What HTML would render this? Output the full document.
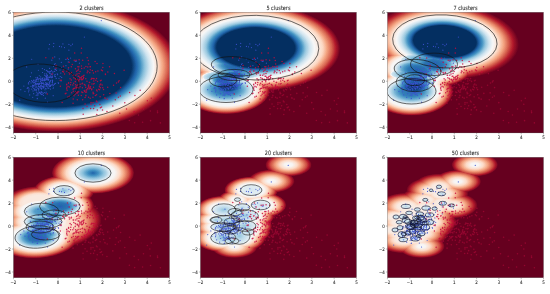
<!DOCTYPE html>
<html><head><meta charset="utf-8"><style>
html,body{margin:0;padding:0;background:#fff;}
svg{display:block;}
text{stroke:#333;stroke-width:0.08px;}
.t{font-family:"DejaVu Sans","Liberation Sans",sans-serif;font-size:4.0px;fill:#333;text-anchor:middle;}
.ty{font-family:"DejaVu Sans","Liberation Sans",sans-serif;font-size:4.0px;fill:#333;text-anchor:end;}
.ti{font-family:"DejaVu Sans","Liberation Sans",sans-serif;font-size:4.95px;fill:#333;text-anchor:middle;}
</style></head><body>
<svg width="550" height="294" viewBox="0 0 550 294">
<defs><filter id="rdbu" color-interpolation-filters="sRGB" filterUnits="userSpaceOnUse" x="0" y="0" width="550" height="294"><feComponentTransfer><feFuncR type="table" tableValues="0.4039 0.6980 0.8392 0.9569 0.9922 0.9686 0.8196 0.5725 0.2627 0.1294 0.0196"/><feFuncG type="table" tableValues="0.0000 0.0941 0.3765 0.6471 0.8588 0.9686 0.8980 0.7725 0.5765 0.4000 0.1882"/><feFuncB type="table" tableValues="0.1216 0.1686 0.3020 0.5098 0.7804 0.9686 0.9412 0.8706 0.7647 0.6745 0.3804"/></feComponentTransfer></filter><clipPath id="cp0"><rect x="13.45" y="12.35" width="156.05" height="120.55"/></clipPath><radialGradient id="g0"><stop offset="0.000" stop-color="#ffffff"/><stop offset="0.619" stop-color="#ffffff"/><stop offset="0.667" stop-color="#e1e1e1"/><stop offset="0.714" stop-color="#bcbcbc"/><stop offset="0.762" stop-color="#9a9a9a"/><stop offset="0.810" stop-color="#787878"/><stop offset="0.857" stop-color="#585858"/><stop offset="0.905" stop-color="#3a3a3a"/><stop offset="0.952" stop-color="#1c1c1c"/><stop offset="1.000" stop-color="#000000"/></radialGradient><clipPath id="cp1"><rect x="200.4" y="12.35" width="156.05" height="120.55"/></clipPath><radialGradient id="g1"><stop offset="0.000" stop-color="#ffffff"/><stop offset="0.463" stop-color="#ffffff"/><stop offset="0.522" stop-color="#dbdbdb"/><stop offset="0.597" stop-color="#adadad"/><stop offset="0.693" stop-color="#808080"/><stop offset="0.746" stop-color="#737373"/><stop offset="0.798" stop-color="#636363"/><stop offset="0.843" stop-color="#4c4c4c"/><stop offset="0.902" stop-color="#333333"/><stop offset="0.949" stop-color="#191919"/><stop offset="1.000" stop-color="#000000"/></radialGradient><radialGradient id="g2"><stop offset="0.000" stop-color="#828282"/><stop offset="0.590" stop-color="#828282"/><stop offset="0.662" stop-color="#7d7d7d"/><stop offset="0.744" stop-color="#666666"/><stop offset="0.822" stop-color="#4c4c4c"/><stop offset="0.911" stop-color="#2d2d2d"/><stop offset="1.000" stop-color="#040404"/></radialGradient><radialGradient id="g3"><stop offset="0.000" stop-color="#e6e6e6"/><stop offset="0.333" stop-color="#dddddd"/><stop offset="0.583" stop-color="#bdbdbd"/><stop offset="0.833" stop-color="#8a8a8a"/><stop offset="1.000" stop-color="#000000"/></radialGradient><radialGradient id="g4"><stop offset="0.000" stop-color="#828282"/><stop offset="0.614" stop-color="#828282"/><stop offset="0.681" stop-color="#7d7d7d"/><stop offset="0.758" stop-color="#666666"/><stop offset="0.832" stop-color="#4c4c4c"/><stop offset="0.916" stop-color="#2d2d2d"/><stop offset="1.000" stop-color="#040404"/></radialGradient><radialGradient id="g5"><stop offset="0.000" stop-color="#dfdfdf"/><stop offset="0.333" stop-color="#d7d7d7"/><stop offset="0.583" stop-color="#b9b9b9"/><stop offset="0.833" stop-color="#8a8a8a"/><stop offset="1.000" stop-color="#000000"/></radialGradient><radialGradient id="g6"><stop offset="0.000" stop-color="#828282"/><stop offset="0.448" stop-color="#828282"/><stop offset="0.544" stop-color="#7d7d7d"/><stop offset="0.654" stop-color="#666666"/><stop offset="0.760" stop-color="#4c4c4c"/><stop offset="0.880" stop-color="#2d2d2d"/><stop offset="1.000" stop-color="#040404"/></radialGradient><radialGradient id="g7"><stop offset="0.000" stop-color="#ececec"/><stop offset="0.333" stop-color="#e3e3e3"/><stop offset="0.583" stop-color="#c1c1c1"/><stop offset="0.833" stop-color="#8a8a8a"/><stop offset="1.000" stop-color="#000000"/></radialGradient><radialGradient id="g8"><stop offset="0.000" stop-color="#828282"/><stop offset="0.485" stop-color="#828282"/><stop offset="0.574" stop-color="#7d7d7d"/><stop offset="0.677" stop-color="#666666"/><stop offset="0.776" stop-color="#4c4c4c"/><stop offset="0.888" stop-color="#2d2d2d"/><stop offset="1.000" stop-color="#040404"/></radialGradient><radialGradient id="g9"><stop offset="0.000" stop-color="#ffffff"/><stop offset="0.333" stop-color="#f2f2f2"/><stop offset="0.667" stop-color="#b9b9b9"/><stop offset="1.000" stop-color="#000000"/></radialGradient><radialGradient id="g10"><stop offset="0.000" stop-color="#d2d2d2"/><stop offset="0.462" stop-color="#bfbfbf"/><stop offset="0.769" stop-color="#999999"/><stop offset="1.000" stop-color="#000000"/></radialGradient><clipPath id="cp2"><rect x="387.45" y="12.35" width="156.05" height="120.55"/></clipPath><radialGradient id="g11"><stop offset="0.000" stop-color="#ffffff"/><stop offset="0.423" stop-color="#ffffff"/><stop offset="0.479" stop-color="#dbdbdb"/><stop offset="0.556" stop-color="#adadad"/><stop offset="0.648" stop-color="#808080"/><stop offset="0.704" stop-color="#707070"/><stop offset="0.761" stop-color="#595959"/><stop offset="0.824" stop-color="#404040"/><stop offset="0.887" stop-color="#262626"/><stop offset="0.937" stop-color="#131313"/><stop offset="1.000" stop-color="#000000"/></radialGradient><radialGradient id="g12"><stop offset="0.000" stop-color="#828282"/><stop offset="0.580" stop-color="#828282"/><stop offset="0.653" stop-color="#7d7d7d"/><stop offset="0.737" stop-color="#666666"/><stop offset="0.817" stop-color="#4c4c4c"/><stop offset="0.909" stop-color="#2d2d2d"/><stop offset="1.000" stop-color="#040404"/></radialGradient><radialGradient id="g13"><stop offset="0.000" stop-color="#828282"/><stop offset="0.528" stop-color="#828282"/><stop offset="0.610" stop-color="#7d7d7d"/><stop offset="0.704" stop-color="#666666"/><stop offset="0.795" stop-color="#4c4c4c"/><stop offset="0.897" stop-color="#2d2d2d"/><stop offset="1.000" stop-color="#040404"/></radialGradient><radialGradient id="g14"><stop offset="0.000" stop-color="#828282"/><stop offset="0.370" stop-color="#828282"/><stop offset="0.480" stop-color="#7d7d7d"/><stop offset="0.606" stop-color="#666666"/><stop offset="0.726" stop-color="#4c4c4c"/><stop offset="0.863" stop-color="#2d2d2d"/><stop offset="1.000" stop-color="#040404"/></radialGradient><clipPath id="cp3"><rect x="13.45" y="157.2" width="156.05" height="120.55"/></clipPath><radialGradient id="g15"><stop offset="0.000" stop-color="#828282"/><stop offset="0.440" stop-color="#828282"/><stop offset="0.538" stop-color="#7d7d7d"/><stop offset="0.650" stop-color="#666666"/><stop offset="0.757" stop-color="#4c4c4c"/><stop offset="0.878" stop-color="#2d2d2d"/><stop offset="1.000" stop-color="#040404"/></radialGradient><radialGradient id="g16"><stop offset="0.000" stop-color="#e6e6e6"/><stop offset="0.292" stop-color="#c7c7c7"/><stop offset="0.583" stop-color="#aaaaaa"/><stop offset="0.833" stop-color="#8a8a8a"/><stop offset="1.000" stop-color="#000000"/></radialGradient><radialGradient id="g17"><stop offset="0.000" stop-color="#828282"/><stop offset="0.338" stop-color="#828282"/><stop offset="0.453" stop-color="#7d7d7d"/><stop offset="0.585" stop-color="#666666"/><stop offset="0.712" stop-color="#4c4c4c"/><stop offset="0.856" stop-color="#2d2d2d"/><stop offset="1.000" stop-color="#040404"/></radialGradient><radialGradient id="g18"><stop offset="0.000" stop-color="#b9b9b9"/><stop offset="0.292" stop-color="#a8a8a8"/><stop offset="0.583" stop-color="#9a9a9a"/><stop offset="0.833" stop-color="#8a8a8a"/><stop offset="1.000" stop-color="#000000"/></radialGradient><radialGradient id="g19"><stop offset="0.000" stop-color="#757575"/><stop offset="0.593" stop-color="#757575"/><stop offset="0.664" stop-color="#707070"/><stop offset="0.745" stop-color="#595959"/><stop offset="0.823" stop-color="#404040"/><stop offset="0.912" stop-color="#202020"/><stop offset="1.000" stop-color="#000000"/></radialGradient><radialGradient id="g20"><stop offset="0.000" stop-color="#828282"/><stop offset="0.464" stop-color="#828282"/><stop offset="0.557" stop-color="#7d7d7d"/><stop offset="0.664" stop-color="#666666"/><stop offset="0.767" stop-color="#4c4c4c"/><stop offset="0.883" stop-color="#2d2d2d"/><stop offset="1.000" stop-color="#040404"/></radialGradient><radialGradient id="g21"><stop offset="0.000" stop-color="#cccccc"/><stop offset="0.333" stop-color="#c6c6c6"/><stop offset="0.583" stop-color="#adadad"/><stop offset="0.833" stop-color="#8a8a8a"/><stop offset="1.000" stop-color="#000000"/></radialGradient><radialGradient id="g22"><stop offset="0.000" stop-color="#7c7c7c"/><stop offset="0.375" stop-color="#7c7c7c"/><stop offset="0.484" stop-color="#777777"/><stop offset="0.609" stop-color="#606060"/><stop offset="0.728" stop-color="#464646"/><stop offset="0.864" stop-color="#262626"/><stop offset="1.000" stop-color="#000000"/></radialGradient><radialGradient id="g23"><stop offset="0.000" stop-color="#7c7c7c"/><stop offset="0.486" stop-color="#7c7c7c"/><stop offset="0.575" stop-color="#777777"/><stop offset="0.678" stop-color="#606060"/><stop offset="0.776" stop-color="#464646"/><stop offset="0.888" stop-color="#262626"/><stop offset="1.000" stop-color="#000000"/></radialGradient><radialGradient id="g24"><stop offset="0.000" stop-color="#d2d2d2"/><stop offset="0.333" stop-color="#cccccc"/><stop offset="0.583" stop-color="#b1b1b1"/><stop offset="0.833" stop-color="#8a8a8a"/><stop offset="1.000" stop-color="#000000"/></radialGradient><radialGradient id="g25"><stop offset="0.000" stop-color="#828282"/><stop offset="0.524" stop-color="#828282"/><stop offset="0.607" stop-color="#7d7d7d"/><stop offset="0.702" stop-color="#666666"/><stop offset="0.793" stop-color="#4c4c4c"/><stop offset="0.896" stop-color="#2d2d2d"/><stop offset="1.000" stop-color="#040404"/></radialGradient><radialGradient id="g26"><stop offset="0.000" stop-color="#7c7c7c"/><stop offset="0.417" stop-color="#7c7c7c"/><stop offset="0.518" stop-color="#777777"/><stop offset="0.635" stop-color="#606060"/><stop offset="0.746" stop-color="#464646"/><stop offset="0.873" stop-color="#262626"/><stop offset="1.000" stop-color="#000000"/></radialGradient><radialGradient id="g27"><stop offset="0.000" stop-color="#828282"/><stop offset="0.412" stop-color="#828282"/><stop offset="0.514" stop-color="#7d7d7d"/><stop offset="0.632" stop-color="#666666"/><stop offset="0.744" stop-color="#4c4c4c"/><stop offset="0.872" stop-color="#2d2d2d"/><stop offset="1.000" stop-color="#040404"/></radialGradient><radialGradient id="g28"><stop offset="0.000" stop-color="#757575"/><stop offset="0.353" stop-color="#757575"/><stop offset="0.465" stop-color="#707070"/><stop offset="0.595" stop-color="#595959"/><stop offset="0.719" stop-color="#404040"/><stop offset="0.859" stop-color="#202020"/><stop offset="1.000" stop-color="#000000"/></radialGradient><radialGradient id="g29"><stop offset="0.000" stop-color="#737373"/><stop offset="0.444" stop-color="#737373"/><stop offset="0.541" stop-color="#6e6e6e"/><stop offset="0.652" stop-color="#575757"/><stop offset="0.758" stop-color="#3d3d3d"/><stop offset="0.879" stop-color="#1d1d1d"/><stop offset="1.000" stop-color="#000000"/></radialGradient><radialGradient id="g30"><stop offset="0.000" stop-color="#737373"/><stop offset="0.400" stop-color="#636363"/><stop offset="0.600" stop-color="#4a4a4a"/><stop offset="0.800" stop-color="#292929"/><stop offset="1.000" stop-color="#000000"/></radialGradient><clipPath id="cp4"><rect x="200.4" y="157.2" width="156.05" height="120.55"/></clipPath><radialGradient id="g31"><stop offset="0.000" stop-color="#828282"/><stop offset="0.174" stop-color="#7d7d7d"/><stop offset="0.374" stop-color="#666666"/><stop offset="0.565" stop-color="#4c4c4c"/><stop offset="0.783" stop-color="#2d2d2d"/><stop offset="1.000" stop-color="#040404"/></radialGradient><radialGradient id="g32"><stop offset="0.000" stop-color="#828282"/><stop offset="0.401" stop-color="#828282"/><stop offset="0.505" stop-color="#7d7d7d"/><stop offset="0.625" stop-color="#666666"/><stop offset="0.739" stop-color="#4c4c4c"/><stop offset="0.870" stop-color="#2d2d2d"/><stop offset="1.000" stop-color="#040404"/></radialGradient><radialGradient id="g33"><stop offset="0.000" stop-color="#999999"/><stop offset="0.292" stop-color="#919191"/><stop offset="0.583" stop-color="#8f8f8f"/><stop offset="0.833" stop-color="#8a8a8a"/><stop offset="1.000" stop-color="#000000"/></radialGradient><radialGradient id="g34"><stop offset="0.000" stop-color="#828282"/><stop offset="0.158" stop-color="#828282"/><stop offset="0.304" stop-color="#7d7d7d"/><stop offset="0.473" stop-color="#666666"/><stop offset="0.634" stop-color="#4c4c4c"/><stop offset="0.817" stop-color="#2d2d2d"/><stop offset="1.000" stop-color="#040404"/></radialGradient><radialGradient id="g35"><stop offset="0.000" stop-color="#828282"/><stop offset="0.373" stop-color="#828282"/><stop offset="0.482" stop-color="#7d7d7d"/><stop offset="0.607" stop-color="#666666"/><stop offset="0.727" stop-color="#4c4c4c"/><stop offset="0.864" stop-color="#2d2d2d"/><stop offset="1.000" stop-color="#040404"/></radialGradient><radialGradient id="g36"><stop offset="0.000" stop-color="#9f9f9f"/><stop offset="0.292" stop-color="#969696"/><stop offset="0.583" stop-color="#919191"/><stop offset="0.833" stop-color="#8a8a8a"/><stop offset="1.000" stop-color="#000000"/></radialGradient><radialGradient id="g37"><stop offset="0.000" stop-color="#828282"/><stop offset="0.427" stop-color="#828282"/><stop offset="0.526" stop-color="#7d7d7d"/><stop offset="0.641" stop-color="#666666"/><stop offset="0.751" stop-color="#4c4c4c"/><stop offset="0.875" stop-color="#2d2d2d"/><stop offset="1.000" stop-color="#040404"/></radialGradient><radialGradient id="g38"><stop offset="0.000" stop-color="#b2b2b2"/><stop offset="0.292" stop-color="#a3a3a3"/><stop offset="0.583" stop-color="#989898"/><stop offset="0.833" stop-color="#8a8a8a"/><stop offset="1.000" stop-color="#000000"/></radialGradient><radialGradient id="g39"><stop offset="0.000" stop-color="#828282"/><stop offset="0.325" stop-color="#828282"/><stop offset="0.442" stop-color="#7d7d7d"/><stop offset="0.577" stop-color="#666666"/><stop offset="0.706" stop-color="#4c4c4c"/><stop offset="0.853" stop-color="#2d2d2d"/><stop offset="1.000" stop-color="#040404"/></radialGradient><radialGradient id="g40"><stop offset="0.000" stop-color="#a6a6a6"/><stop offset="0.292" stop-color="#9a9a9a"/><stop offset="0.583" stop-color="#939393"/><stop offset="0.833" stop-color="#8a8a8a"/><stop offset="1.000" stop-color="#000000"/></radialGradient><radialGradient id="g41"><stop offset="0.000" stop-color="#828282"/><stop offset="0.482" stop-color="#828282"/><stop offset="0.572" stop-color="#7d7d7d"/><stop offset="0.676" stop-color="#666666"/><stop offset="0.775" stop-color="#4c4c4c"/><stop offset="0.887" stop-color="#2d2d2d"/><stop offset="1.000" stop-color="#040404"/></radialGradient><radialGradient id="g42"><stop offset="0.000" stop-color="#828282"/><stop offset="0.461" stop-color="#828282"/><stop offset="0.555" stop-color="#7d7d7d"/><stop offset="0.663" stop-color="#666666"/><stop offset="0.766" stop-color="#4c4c4c"/><stop offset="0.883" stop-color="#2d2d2d"/><stop offset="1.000" stop-color="#040404"/></radialGradient><radialGradient id="g43"><stop offset="0.000" stop-color="#828282"/><stop offset="0.439" stop-color="#828282"/><stop offset="0.536" stop-color="#7d7d7d"/><stop offset="0.649" stop-color="#666666"/><stop offset="0.756" stop-color="#4c4c4c"/><stop offset="0.878" stop-color="#2d2d2d"/><stop offset="1.000" stop-color="#040404"/></radialGradient><radialGradient id="g44"><stop offset="0.000" stop-color="#828282"/><stop offset="0.414" stop-color="#828282"/><stop offset="0.516" stop-color="#7d7d7d"/><stop offset="0.633" stop-color="#666666"/><stop offset="0.745" stop-color="#4c4c4c"/><stop offset="0.873" stop-color="#2d2d2d"/><stop offset="1.000" stop-color="#040404"/></radialGradient><radialGradient id="g45"><stop offset="0.000" stop-color="#828282"/><stop offset="0.333" stop-color="#828282"/><stop offset="0.449" stop-color="#7d7d7d"/><stop offset="0.583" stop-color="#666666"/><stop offset="0.710" stop-color="#4c4c4c"/><stop offset="0.855" stop-color="#2d2d2d"/><stop offset="1.000" stop-color="#040404"/></radialGradient><radialGradient id="g46"><stop offset="0.000" stop-color="#828282"/><stop offset="0.360" stop-color="#828282"/><stop offset="0.471" stop-color="#7d7d7d"/><stop offset="0.599" stop-color="#666666"/><stop offset="0.722" stop-color="#4c4c4c"/><stop offset="0.861" stop-color="#2d2d2d"/><stop offset="1.000" stop-color="#040404"/></radialGradient><radialGradient id="g47"><stop offset="0.000" stop-color="#828282"/><stop offset="0.304" stop-color="#828282"/><stop offset="0.425" stop-color="#7d7d7d"/><stop offset="0.564" stop-color="#666666"/><stop offset="0.698" stop-color="#4c4c4c"/><stop offset="0.849" stop-color="#2d2d2d"/><stop offset="1.000" stop-color="#040404"/></radialGradient><radialGradient id="g48"><stop offset="0.000" stop-color="#828282"/><stop offset="0.273" stop-color="#828282"/><stop offset="0.399" stop-color="#7d7d7d"/><stop offset="0.545" stop-color="#666666"/><stop offset="0.684" stop-color="#4c4c4c"/><stop offset="0.842" stop-color="#2d2d2d"/><stop offset="1.000" stop-color="#040404"/></radialGradient><radialGradient id="g49"><stop offset="0.000" stop-color="#acacac"/><stop offset="0.292" stop-color="#9f9f9f"/><stop offset="0.583" stop-color="#959595"/><stop offset="0.833" stop-color="#8a8a8a"/><stop offset="1.000" stop-color="#000000"/></radialGradient><clipPath id="cp5"><rect x="387.45" y="157.2" width="156.05" height="120.55"/></clipPath><radialGradient id="g50"><stop offset="0.000" stop-color="#787878"/><stop offset="0.102" stop-color="#787878"/><stop offset="0.258" stop-color="#737373"/><stop offset="0.437" stop-color="#5c5c5c"/><stop offset="0.609" stop-color="#424242"/><stop offset="0.805" stop-color="#222222"/><stop offset="1.000" stop-color="#000000"/></radialGradient><radialGradient id="g51"><stop offset="0.000" stop-color="#787878"/><stop offset="0.170" stop-color="#787878"/><stop offset="0.314" stop-color="#737373"/><stop offset="0.480" stop-color="#5c5c5c"/><stop offset="0.639" stop-color="#424242"/><stop offset="0.819" stop-color="#222222"/><stop offset="1.000" stop-color="#000000"/></radialGradient><radialGradient id="g52"><stop offset="0.000" stop-color="#787878"/><stop offset="0.158" stop-color="#787878"/><stop offset="0.304" stop-color="#737373"/><stop offset="0.473" stop-color="#5c5c5c"/><stop offset="0.634" stop-color="#424242"/><stop offset="0.817" stop-color="#222222"/><stop offset="1.000" stop-color="#000000"/></radialGradient><radialGradient id="g53"><stop offset="0.000" stop-color="#787878"/><stop offset="0.115" stop-color="#787878"/><stop offset="0.269" stop-color="#737373"/><stop offset="0.446" stop-color="#5c5c5c"/><stop offset="0.615" stop-color="#424242"/><stop offset="0.808" stop-color="#222222"/><stop offset="1.000" stop-color="#000000"/></radialGradient><radialGradient id="g54"><stop offset="0.000" stop-color="#787878"/><stop offset="0.098" stop-color="#787878"/><stop offset="0.255" stop-color="#737373"/><stop offset="0.435" stop-color="#5c5c5c"/><stop offset="0.608" stop-color="#424242"/><stop offset="0.804" stop-color="#222222"/><stop offset="1.000" stop-color="#000000"/></radialGradient><radialGradient id="g55"><stop offset="0.000" stop-color="#787878"/><stop offset="0.129" stop-color="#787878"/><stop offset="0.280" stop-color="#737373"/><stop offset="0.455" stop-color="#5c5c5c"/><stop offset="0.621" stop-color="#424242"/><stop offset="0.811" stop-color="#222222"/><stop offset="1.000" stop-color="#000000"/></radialGradient><radialGradient id="g56"><stop offset="0.000" stop-color="#787878"/><stop offset="0.142" stop-color="#787878"/><stop offset="0.291" stop-color="#737373"/><stop offset="0.463" stop-color="#5c5c5c"/><stop offset="0.627" stop-color="#424242"/><stop offset="0.813" stop-color="#222222"/><stop offset="1.000" stop-color="#000000"/></radialGradient><radialGradient id="g57"><stop offset="0.000" stop-color="#787878"/><stop offset="0.073" stop-color="#787878"/><stop offset="0.234" stop-color="#737373"/><stop offset="0.419" stop-color="#5c5c5c"/><stop offset="0.597" stop-color="#424242"/><stop offset="0.798" stop-color="#222222"/><stop offset="1.000" stop-color="#000000"/></radialGradient><radialGradient id="g58"><stop offset="0.000" stop-color="#787878"/><stop offset="0.151" stop-color="#787878"/><stop offset="0.299" stop-color="#737373"/><stop offset="0.469" stop-color="#5c5c5c"/><stop offset="0.631" stop-color="#424242"/><stop offset="0.815" stop-color="#222222"/><stop offset="1.000" stop-color="#000000"/></radialGradient><radialGradient id="g59"><stop offset="0.000" stop-color="#787878"/><stop offset="0.132" stop-color="#787878"/><stop offset="0.283" stop-color="#737373"/><stop offset="0.457" stop-color="#5c5c5c"/><stop offset="0.623" stop-color="#424242"/><stop offset="0.811" stop-color="#222222"/><stop offset="1.000" stop-color="#000000"/></radialGradient><radialGradient id="g60"><stop offset="0.000" stop-color="#787878"/><stop offset="0.118" stop-color="#787878"/><stop offset="0.271" stop-color="#737373"/><stop offset="0.448" stop-color="#5c5c5c"/><stop offset="0.616" stop-color="#424242"/><stop offset="0.808" stop-color="#222222"/><stop offset="1.000" stop-color="#000000"/></radialGradient><radialGradient id="g61"><stop offset="0.000" stop-color="#787878"/><stop offset="0.145" stop-color="#787878"/><stop offset="0.294" stop-color="#737373"/><stop offset="0.465" stop-color="#5c5c5c"/><stop offset="0.628" stop-color="#424242"/><stop offset="0.814" stop-color="#222222"/><stop offset="1.000" stop-color="#000000"/></radialGradient><radialGradient id="g62"><stop offset="0.000" stop-color="#787878"/><stop offset="0.143" stop-color="#787878"/><stop offset="0.292" stop-color="#737373"/><stop offset="0.463" stop-color="#5c5c5c"/><stop offset="0.627" stop-color="#424242"/><stop offset="0.814" stop-color="#222222"/><stop offset="1.000" stop-color="#000000"/></radialGradient><radialGradient id="g63"><stop offset="0.000" stop-color="#787878"/><stop offset="0.096" stop-color="#787878"/><stop offset="0.253" stop-color="#737373"/><stop offset="0.434" stop-color="#5c5c5c"/><stop offset="0.607" stop-color="#424242"/><stop offset="0.803" stop-color="#222222"/><stop offset="1.000" stop-color="#000000"/></radialGradient><radialGradient id="g64"><stop offset="0.000" stop-color="#787878"/><stop offset="0.136" stop-color="#787878"/><stop offset="0.286" stop-color="#737373"/><stop offset="0.459" stop-color="#5c5c5c"/><stop offset="0.624" stop-color="#424242"/><stop offset="0.812" stop-color="#222222"/><stop offset="1.000" stop-color="#000000"/></radialGradient><radialGradient id="g65"><stop offset="0.000" stop-color="#787878"/><stop offset="0.101" stop-color="#787878"/><stop offset="0.257" stop-color="#737373"/><stop offset="0.437" stop-color="#5c5c5c"/><stop offset="0.609" stop-color="#424242"/><stop offset="0.805" stop-color="#222222"/><stop offset="1.000" stop-color="#000000"/></radialGradient><radialGradient id="g66"><stop offset="0.000" stop-color="#787878"/><stop offset="0.134" stop-color="#787878"/><stop offset="0.284" stop-color="#737373"/><stop offset="0.458" stop-color="#5c5c5c"/><stop offset="0.623" stop-color="#424242"/><stop offset="0.812" stop-color="#222222"/><stop offset="1.000" stop-color="#000000"/></radialGradient><radialGradient id="g67"><stop offset="0.000" stop-color="#787878"/><stop offset="0.147" stop-color="#787878"/><stop offset="0.296" stop-color="#737373"/><stop offset="0.466" stop-color="#5c5c5c"/><stop offset="0.629" stop-color="#424242"/><stop offset="0.815" stop-color="#222222"/><stop offset="1.000" stop-color="#000000"/></radialGradient><radialGradient id="g68"><stop offset="0.000" stop-color="#787878"/><stop offset="0.098" stop-color="#787878"/><stop offset="0.255" stop-color="#737373"/><stop offset="0.436" stop-color="#5c5c5c"/><stop offset="0.608" stop-color="#424242"/><stop offset="0.804" stop-color="#222222"/><stop offset="1.000" stop-color="#000000"/></radialGradient><radialGradient id="g69"><stop offset="0.000" stop-color="#787878"/><stop offset="0.138" stop-color="#787878"/><stop offset="0.288" stop-color="#737373"/><stop offset="0.460" stop-color="#5c5c5c"/><stop offset="0.625" stop-color="#424242"/><stop offset="0.813" stop-color="#222222"/><stop offset="1.000" stop-color="#000000"/></radialGradient><radialGradient id="g70"><stop offset="0.000" stop-color="#787878"/><stop offset="0.104" stop-color="#787878"/><stop offset="0.260" stop-color="#737373"/><stop offset="0.439" stop-color="#5c5c5c"/><stop offset="0.610" stop-color="#424242"/><stop offset="0.805" stop-color="#222222"/><stop offset="1.000" stop-color="#000000"/></radialGradient><radialGradient id="g71"><stop offset="0.000" stop-color="#787878"/><stop offset="0.135" stop-color="#787878"/><stop offset="0.285" stop-color="#737373"/><stop offset="0.458" stop-color="#5c5c5c"/><stop offset="0.624" stop-color="#424242"/><stop offset="0.812" stop-color="#222222"/><stop offset="1.000" stop-color="#000000"/></radialGradient></defs>
<rect width="550" height="294" fill="#fff"/>
<g clip-path="url(#cp0)">
<g filter="url(#rdbu)" style="isolation:isolate">
<rect x="11.45" y="10.35" width="160.05" height="124.55" fill="#000"/>
<ellipse style="mix-blend-mode:lighten" transform="translate(55.6 66.3) rotate(0)" rx="122.56" ry="65.5" fill="url(#g0)"/>
<ellipse style="mix-blend-mode:lighten" transform="translate(42.4 83.2) rotate(4)" rx="43.73" ry="23.04" fill="url(#g0)"/>
</g>
<path d="M49.54 71.92h0M46.26 83.25h0M39.85 87.85h0M33.75 80.83h0M52.27 77.38h0M39.67 86.62h0M44.8 79.51h0M34.26 82.69h0M47.24 79.67h0M36.42 79.4h0M52.88 72.92h0M53.42 87.83h0M35.26 81.47h0M28.68 82.68h0M46.62 75.95h0M46.19 88.87h0M38.59 93.84h0M29.7 94.94h0M46.11 92.2h0M50.69 71.61h0M46.93 77.53h0M42.3 78.52h0M24.96 91.35h0M58.51 83.32h0M42.12 80.65h0M54.65 71.4h0M45.72 82.64h0M41.34 83.4h0M39.48 92.46h0M50.11 85h0M31.05 82.92h0M52.98 85.65h0M36.78 84.25h0M31.82 89.07h0M35.53 83.38h0M49.62 73.33h0M52.52 84.04h0M50.05 73.38h0M49.62 81.8h0M32.66 81.99h0M52.14 79.99h0M40.57 79.26h0M39.42 83.45h0M49.68 86.39h0M55.22 74.3h0M50.37 80.38h0M43.28 82.94h0M40.09 87.06h0M60 70.01h0M39.37 84.5h0M41.6 88.77h0M37.48 78.77h0M42.94 79.25h0M51.78 74.31h0M49.72 71.76h0M44.04 85.11h0M52.26 77.1h0M38.66 90.82h0M41.43 82.3h0M50.52 89.1h0M36.99 84.35h0M47.69 79.17h0M47.85 84.38h0M48.27 80.37h0M50.19 77.33h0M38.62 86.34h0M42.37 86.44h0M27.93 87.4h0M36.58 80.78h0M36.17 95.51h0M43.06 87.97h0M34.72 84.88h0M34.63 90.04h0M37.7 83.65h0M33.6 82.83h0M33.6 80.68h0M46.78 85.01h0M59 78.28h0M40.34 93.52h0M55.38 76.68h0M41.49 89.22h0M44.49 69.61h0M52.49 81.36h0M43.62 87.98h0M33.79 88.6h0M40.79 88.25h0M48.76 84.68h0M38.33 88.62h0M51.76 77.69h0M40.96 91.98h0M43.58 86.39h0M52.23 82.58h0M33.77 79.98h0M41.11 92.34h0M48.98 85.94h0M40.85 80.35h0M44.55 75.27h0M45.32 98.19h0M37.88 95.57h0M49.29 77.32h0M41.17 94.62h0M28.91 90.25h0M46.47 86.16h0M49.89 82.09h0M40.57 85.5h0M36.29 89.62h0M45.01 78.92h0M42.87 79.31h0M41.04 86.68h0M46.18 84.89h0M54.59 83.97h0M41.38 84.04h0M38.71 89.43h0M42.95 77.83h0M47.62 84.14h0M40.17 83.11h0M49.17 77.05h0M52.43 81.93h0M47.5 75.44h0M42.77 86.56h0M32.26 81.47h0M50.24 75.08h0M40.74 76.97h0M46.83 74.26h0M35.23 81.92h0M41.62 83.71h0M45.35 84.64h0M49.64 83.77h0M35.75 84.64h0M47.26 83.84h0M54.62 76.24h0M37.12 94.36h0M51.41 73.99h0M42.96 86.53h0M44.91 86.85h0M51.66 84.74h0M42.13 78.98h0M52.13 80.35h0M38.5 85.96h0M37.43 98.34h0M28.72 84.01h0M33.68 93.65h0M47.05 78.14h0M39.83 78.69h0M42.14 92.35h0M46.05 79.87h0M44.73 73.86h0M47.53 86.81h0M52.98 71.58h0M48.7 71.82h0M44.42 80.7h0M37.32 93.11h0M47.57 77h0M51.37 85.09h0M28.99 88.88h0M33.68 85.55h0M52.25 74.99h0M35.95 87.56h0M54.55 64.49h0M41.71 88.05h0M48.22 79.27h0M32.62 87.18h0M46.43 79.2h0M42.27 94.55h0M46.26 77.86h0M43.79 84.85h0M32.65 85.57h0M37.16 79.21h0M37.49 78.78h0M42.5 83.41h0M46.58 70.62h0M33.03 90.94h0M34.8 89.2h0M50.27 81.29h0M47.84 71.78h0M68.24 69.02h0M29.67 81.43h0M43.77 83.56h0M32.73 97.29h0M38.28 83.24h0M52.63 80.3h0M42.65 86.25h0M36.01 86.06h0M47.15 83.1h0M28.32 83.75h0M37.57 77.38h0M54.53 84.37h0M36.89 81.61h0M43.17 93.44h0M46.77 83.72h0M48.11 77.16h0M36.82 83.72h0M19.73 100.21h0M42.42 83.18h0M45.06 80.3h0M49.06 82.93h0M37.72 88.09h0M41.31 94.1h0M46.76 83.32h0M57.62 74.72h0M47.97 84.29h0M39.11 92.36h0M35.22 80.13h0M46.42 73.81h0M44.78 78.21h0M56.21 78.4h0M30.89 86.24h0M47.96 84.81h0M38.41 84.51h0M30.44 76.57h0M32.55 85.39h0M41.03 80.23h0M36.19 89.44h0M36.37 92.04h0M38.21 86.73h0M45.4 88.51h0M46.22 84.27h0M41.56 79h0M48.6 79.85h0M43.06 80.53h0M50.34 86.42h0M51.81 60.13h0M45.75 75.79h0M54.74 74.9h0M26.67 66.92h0M32.9 84.98h0M38.43 80.98h0M48.04 88.18h0M31.68 59.27h0M46.7 84.57h0M42.62 80.61h0M28.6 91.85h0M60.23 76.52h0M38.68 78.94h0M44.16 79.96h0M50.29 76.51h0M43.63 87.17h0M45.94 93.27h0M42.33 68.56h0M39.28 75.75h0M60.83 73.1h0M53.5 85h0M37.15 84.04h0M40.91 86.13h0M45.17 84.42h0M48.97 88.09h0M47.61 71.18h0M43.5 95.35h0M51.41 70.68h0M40.17 93.3h0M38.04 64.29h0M45.88 76.39h0M45 89.81h0M40.37 93.46h0M55.64 69.68h0M23.88 86.12h0M20.77 89.68h0M53.51 66.37h0M27.26 88.47h0M35.99 90.3h0M53.18 95.66h0M33.88 86.65h0M61.07 80.92h0M49.58 68.46h0M48.75 79.18h0M51.45 76.89h0M28.24 87.62h0M35.97 77.64h0M54.69 69h0M36.38 89.95h0M41.38 85.59h0M38.39 70.25h0M37.18 98.67h0M46.17 83.11h0M46.89 76.92h0M42.56 72.5h0M38.52 79.24h0M44.36 92.48h0M31.45 72.8h0M41.43 91.86h0M46.35 70.44h0M31.6 80.5h0M65.9 59.38h0M57.45 74.28h0M57.23 73.84h0M50.53 85.52h0M58.22 82.72h0M36.17 86.96h0M61.71 77.44h0M40.12 78.72h0M40.44 81.46h0M65.95 65.64h0M56.48 70.33h0M53.11 88.24h0M61.51 67.29h0M55.58 83.29h0M50.49 85.88h0M32.37 86.01h0M52.44 76.7h0M55.13 63.57h0M61.54 46.87h0M53.76 43.47h0M48.88 48.93h0M49.47 44.43h0M64.48 47.54h0M53.51 46.59h0M68.92 44.41h0M70.89 45.72h0M59.47 46.43h0M72.47 44.13h0M62.9 43.91h0M68.9 50.19h0M75.88 61.35h0M76.33 60.98h0M70.62 58.05h0M75.19 61.13h0M68.33 59.42h0M79.42 63.2h0M59.32 58.78h0M54.73 56.88h0M61.33 62.37h0M68.24 61.96h0M84.34 37.03h0M101.28 20.62h0M47.56 102.13h0" stroke="#3c50d0" stroke-opacity="0.9" stroke-width="1.2" stroke-linecap="round" fill="none"/>
<path d="M90.38 88.23h0M79.79 77.5h0M77.03 73.97h0M97.53 81.41h0M86.09 90.26h0M76.07 60.13h0M71.1 73.26h0M45.83 57.68h0M73.18 99h0M79.11 59.78h0M66.81 87.23h0M81.35 77.27h0M66 93.36h0M88.59 97.33h0M81.06 78.04h0M60.38 86.19h0M68.58 82.72h0M86.97 81.36h0M71.68 92.67h0M81.67 68.39h0M47.27 94.05h0M89.36 82.45h0M68.53 67.63h0M78.65 91.65h0M63.6 72.01h0M70.56 84.83h0M61.28 80.2h0M73.81 77.7h0M88.81 84.95h0M55.94 68.31h0M84.16 68.05h0M99.87 85.07h0M96.53 78.53h0M73.25 91.37h0M102.95 63.45h0M89.77 72.81h0M67.14 90.18h0M100.77 84.03h0M83.01 108.43h0M90.63 108.59h0M62.62 71.58h0M99.38 86.72h0M66.61 84.8h0M62.15 102.43h0M69.12 72.48h0M87.76 67.1h0M77.68 91.97h0M80.08 71.54h0M60.15 80.3h0M67.02 70.9h0M83.2 114.17h0M105.42 74.55h0M66.67 88.8h0M74.69 53.05h0M69.32 87.02h0M103.7 94.74h0M75.96 86.63h0M102.76 87.87h0M91.57 89.87h0M83.28 78.49h0M93.12 93.8h0M74.2 60.33h0M69.39 96.28h0M77.33 80.03h0M82.02 83.81h0M97.09 101.9h0M79.57 79.24h0M91.85 78.3h0M70.8 82.48h0M71.34 66.78h0M65.27 93.87h0M68.57 83.29h0M89.08 89.08h0M93.77 80.94h0M75.24 78.58h0M76.58 87.41h0M79.05 73.48h0M93.49 87.21h0M75.34 81.51h0M93.02 102.74h0M81.09 79.05h0M73.01 89.16h0M85.21 85.27h0M80.19 84.28h0M87.52 88.49h0M71.26 79.9h0M88.02 71.17h0M76.5 71.33h0M68.03 86.18h0M52.16 74.09h0M78.88 88.09h0M77.92 70.62h0M67.91 97.03h0M85.75 92.3h0M78.79 81.82h0M81.68 91.99h0M63.85 69.74h0M101.15 80.35h0M73.58 75.21h0M69.51 74.03h0M100.47 80.78h0M52.71 58.01h0M102.46 70.87h0M86.86 89.63h0M69.21 62.15h0M78.86 76.23h0M93.6 108.51h0M93.58 84.01h0M81.23 52.95h0M88.47 87h0M93.16 78.62h0M73.05 103.29h0M97.29 109.9h0M73.67 83.27h0M77.41 92.91h0M81.31 95.45h0M100.51 87.82h0M70.08 78.74h0M98.54 89.24h0M83.2 75.88h0M97.93 70.94h0M77.3 99.84h0M94.66 105.82h0M74.76 88.24h0M93.05 92.19h0M75.52 84.85h0M63.46 66.15h0M118.45 97.24h0M76.29 87.97h0M82.75 92.51h0M87.47 70.89h0M75.79 75.18h0M91.03 102.59h0M88.31 60.47h0M91.97 83.92h0M82.35 87.74h0M82.65 99.65h0M78.79 80.62h0M101.37 69.97h0M72.28 64.52h0M76.44 93.07h0M85.88 95.79h0M81.96 76.42h0M82.59 79.57h0M72.88 84.92h0M87.2 57.66h0M74.08 95.75h0M84.26 90.41h0M88.71 64.09h0M90.39 66.65h0M85.93 66.46h0M78.12 76.25h0M87.02 106.47h0M67.42 58.14h0M96.49 89.99h0M75.23 81.74h0M82.7 60.37h0M71.41 72.52h0M84.02 75.19h0M92.34 70.59h0M78.91 66.74h0M64.57 74.02h0M87.19 72.87h0M73.55 88.48h0M66.81 84.37h0M83.66 77.41h0M85.92 95.37h0M90.09 66.68h0M75.45 68.64h0M78.04 87.41h0M107.84 71.95h0M95.11 61.53h0M56.13 65.4h0M76.96 85.56h0M97.01 63.57h0M84.64 91.47h0M73.17 75.2h0M75.72 91.68h0M66.66 71.11h0M77.84 66.7h0M119.79 113.27h0M109.85 93.39h0M85.07 103.96h0M96.37 101.11h0M90.95 104.19h0M114.43 73.62h0M140.16 90.26h0M124.12 70.25h0M109.56 66.63h0M90.28 69.79h0M91.16 79.35h0M102.79 67.4h0M116.14 92.9h0M120.57 87.6h0M84.42 84.5h0M89.6 82.56h0M77.61 79.46h0M88.54 85.44h0M100.36 107.64h0M97.16 90.94h0M78.35 95.26h0M115.33 99.7h0M81.46 66.06h0M120.26 96.01h0M99.85 104.44h0M89.23 87.69h0M93.71 93.43h0M118.37 82.04h0M90.53 86.64h0M112.81 106.06h0M134.95 95.41h0M90.2 98.15h0M99.62 89.7h0M75.14 94.21h0M81.62 79.83h0M78.41 69.34h0M81.5 48.31h0M91.86 88.92h0M76.19 87.63h0M126.52 108.92h0M102.12 85.08h0M147.35 100.69h0M151.28 98.23h0M94.13 78.87h0M100.12 96.86h0M95.85 80.3h0M129.6 92.45h0M113.56 85.26h0M101.53 106.98h0M80.17 86.8h0M95.71 71.8h0M119.1 80.83h0M124.78 102.66h0M78.09 84.56h0M82.56 83.36h0M106.96 111.6h0M104.92 97.82h0M107.71 87.22h0M88.75 86.4h0M105.05 98.16h0M134.16 111.52h0M86.54 92.04h0M92.92 97.27h0M96.81 114.5h0M95.38 95.56h0M102.53 109.9h0M105.39 73.96h0M96.56 94.75h0M94.15 83.58h0M103.56 89.61h0M77.19 79.59h0M75.64 79.01h0M85.73 87.21h0M93.44 73.12h0M85.81 78.68h0M107.18 99.15h0M85.08 97.46h0M116.5 83.01h0" stroke="#c8083c" stroke-opacity="0.85" stroke-width="1.5" stroke-linecap="round" fill="none"/>
<path d="M150.56 120.67h0M160.4 122.89h0M157.48 111.1h0M149.8 104.21h0M134.67 122.73h0M142.57 122.19h0M157.57 112.6h0M150.36 111.03h0M138.47 114.93h0M143.49 108.94h0M129.39 120.46h0" stroke="#c00a40" stroke-opacity="0.5" stroke-width="1.6" stroke-linecap="round" fill="none"/>
<g fill="none" stroke="#111" stroke-width="0.7" stroke-opacity="0.9">
<ellipse cx="55.6" cy="66.3" rx="101.6" ry="54.3"/>
<ellipse transform="translate(42.4 83.2) rotate(4)" rx="36.25" ry="19.1"/>
</g>
</g>
<rect x="13.45" y="12.35" width="156.05" height="120.55" fill="none" stroke="#555" stroke-width="0.35"/>
<text transform="translate(13.45 138.65) scale(1 1.2)" class="t">−2</text>
<text transform="translate(35.74 138.65) scale(1 1.2)" class="t">−1</text>
<text transform="translate(58.04 138.65) scale(1 1.2)" class="t">0</text>
<text transform="translate(80.33 138.65) scale(1 1.2)" class="t">1</text>
<text transform="translate(102.62 138.65) scale(1 1.2)" class="t">2</text>
<text transform="translate(124.91 138.65) scale(1 1.2)" class="t">3</text>
<text transform="translate(147.21 138.65) scale(1 1.2)" class="t">4</text>
<text transform="translate(169.5 138.65) scale(1 1.2)" class="t">5</text>
<text transform="translate(10.85 128.91) scale(1 1.2)" class="ty">−4</text>
<text transform="translate(10.85 105.95) scale(1 1.2)" class="ty">−2</text>
<text transform="translate(10.85 82.99) scale(1 1.2)" class="ty">0</text>
<text transform="translate(10.85 60.02) scale(1 1.2)" class="ty">2</text>
<text transform="translate(10.85 37.06) scale(1 1.2)" class="ty">4</text>
<text transform="translate(10.85 14.1) scale(1 1.2)" class="ty">6</text>
<path d="M13.45 132.9v1.5M35.74 132.9v1.5M58.04 132.9v1.5M80.33 132.9v1.5M102.62 132.9v1.5M124.91 132.9v1.5M147.21 132.9v1.5M169.5 132.9v1.5M13.45 127.16h-1.5M13.45 104.2h-1.5M13.45 81.24h-1.5M13.45 58.27h-1.5M13.45 35.31h-1.5M13.45 12.35h-1.5" stroke="#444" stroke-width="0.35" fill="none"/>
<text transform="translate(91.48 9.65) scale(1 1.2)" class="ti">2 clusters</text>
<g clip-path="url(#cp1)">
<g filter="url(#rdbu)" style="isolation:isolate">
<rect x="198.4" y="10.35" width="160.05" height="124.55" fill="#000"/>
<ellipse style="mix-blend-mode:lighten" transform="translate(255.76 47.66) rotate(1)" rx="84.5" ry="43.32" fill="url(#g1)"/>
<ellipse style="mix-blend-mode:lighten" transform="translate(235.8 66.3) rotate(5)" rx="41.5" ry="21.06" fill="url(#g2)"/>
<ellipse style="mix-blend-mode:lighten" transform="translate(235.8 66.3) rotate(5)" rx="29.4" ry="11.4" fill="url(#g3)"/>
<ellipse style="mix-blend-mode:lighten" transform="translate(226 89.5) rotate(0)" rx="44" ry="24.56" fill="url(#g4)"/>
<ellipse style="mix-blend-mode:lighten" transform="translate(226 89.5) rotate(0)" rx="32.4" ry="15.6" fill="url(#g5)"/>
<ellipse style="mix-blend-mode:lighten" transform="translate(223 80) rotate(0)" rx="30.8" ry="18.46" fill="url(#g6)"/>
<ellipse style="mix-blend-mode:lighten" transform="translate(223 80) rotate(0)" rx="16.56" ry="8.28" fill="url(#g7)"/>
<ellipse style="mix-blend-mode:lighten" transform="translate(234 75) rotate(0)" rx="33" ry="17.16" fill="url(#g8)"/>
<ellipse style="mix-blend-mode:lighten" transform="translate(234 75) rotate(0)" rx="19.2" ry="6.72" fill="url(#g7)"/>
<ellipse style="mix-blend-mode:lighten" transform="translate(228 87) rotate(0)" rx="22.5" ry="11.25" fill="url(#g9)"/>
<ellipse style="mix-blend-mode:lighten" transform="translate(238 72) rotate(0)" rx="31.2" ry="9.1" fill="url(#g10)"/>
<ellipse style="mix-blend-mode:lighten" transform="translate(226 77) rotate(0)" rx="28.6" ry="7.8" fill="url(#g10)"/>
</g>
<path d="M236.49 71.92h0M233.21 83.25h0M226.8 87.85h0M220.7 80.83h0M239.22 77.38h0M226.62 86.62h0M231.75 79.51h0M221.21 82.69h0M234.19 79.67h0M223.37 79.4h0M239.83 72.92h0M240.37 87.83h0M222.21 81.47h0M215.63 82.68h0M233.57 75.95h0M233.14 88.87h0M225.54 93.84h0M216.65 94.94h0M233.06 92.2h0M237.64 71.61h0M233.88 77.53h0M229.25 78.52h0M211.91 91.35h0M245.46 83.32h0M229.07 80.65h0M241.6 71.4h0M232.67 82.64h0M228.29 83.4h0M226.43 92.46h0M237.06 85h0M218 82.92h0M239.93 85.65h0M223.73 84.25h0M218.77 89.07h0M222.48 83.38h0M236.57 73.33h0M239.47 84.04h0M237 73.38h0M236.57 81.8h0M219.61 81.99h0M239.09 79.99h0M227.52 79.26h0M226.37 83.45h0M236.63 86.39h0M242.17 74.3h0M237.32 80.38h0M230.23 82.94h0M227.04 87.06h0M246.95 70.01h0M226.32 84.5h0M228.55 88.77h0M224.43 78.77h0M229.89 79.25h0M238.73 74.31h0M236.67 71.76h0M230.99 85.11h0M239.21 77.1h0M225.61 90.82h0M228.38 82.3h0M237.47 89.1h0M223.94 84.35h0M234.64 79.17h0M234.8 84.38h0M235.22 80.37h0M237.14 77.33h0M225.57 86.34h0M229.32 86.44h0M214.88 87.4h0M223.53 80.78h0M223.12 95.51h0M230.01 87.97h0M221.67 84.88h0M221.58 90.04h0M224.65 83.65h0M220.55 82.83h0M220.55 80.68h0M233.73 85.01h0M245.95 78.28h0M227.29 93.52h0M242.33 76.68h0M228.44 89.22h0M231.44 69.61h0M239.44 81.36h0M230.57 87.98h0M220.74 88.6h0M227.74 88.25h0M235.71 84.68h0M225.28 88.62h0M238.71 77.69h0M227.91 91.98h0M230.53 86.39h0M239.18 82.58h0M220.72 79.98h0M228.06 92.34h0M235.93 85.94h0M227.8 80.35h0M231.5 75.27h0M232.27 98.19h0M224.83 95.57h0M236.24 77.32h0M228.12 94.62h0M215.86 90.25h0M233.42 86.16h0M236.84 82.09h0M227.52 85.5h0M223.24 89.62h0M231.96 78.92h0M229.82 79.31h0M227.99 86.68h0M233.13 84.89h0M241.54 83.97h0M228.33 84.04h0M225.66 89.43h0M229.9 77.83h0M234.57 84.14h0M227.12 83.11h0M236.12 77.05h0M239.38 81.93h0M234.45 75.44h0M229.72 86.56h0M219.21 81.47h0M237.19 75.08h0M227.69 76.97h0M233.78 74.26h0M222.18 81.92h0M228.57 83.71h0M232.3 84.64h0M236.59 83.77h0M222.7 84.64h0M234.21 83.84h0M241.57 76.24h0M224.07 94.36h0M238.36 73.99h0M229.91 86.53h0M231.86 86.85h0M238.61 84.74h0M229.08 78.98h0M239.08 80.35h0M225.45 85.96h0M224.38 98.34h0M215.67 84.01h0M220.63 93.65h0M234 78.14h0M226.78 78.69h0M229.09 92.35h0M233 79.87h0M231.68 73.86h0M234.48 86.81h0M239.93 71.58h0M235.65 71.82h0M231.37 80.7h0M224.27 93.11h0M234.52 77h0M238.32 85.09h0M215.94 88.88h0M220.63 85.55h0M239.2 74.99h0M222.9 87.56h0M241.5 64.49h0M228.66 88.05h0M235.17 79.27h0M219.57 87.18h0M233.38 79.2h0M229.22 94.55h0M233.21 77.86h0M230.74 84.85h0M219.6 85.57h0M224.11 79.21h0M224.44 78.78h0M229.45 83.41h0M233.53 70.62h0M219.98 90.94h0M221.75 89.2h0M237.22 81.29h0M234.79 71.78h0M255.19 69.02h0M216.62 81.43h0M230.72 83.56h0M219.68 97.29h0M225.23 83.24h0M239.58 80.3h0M229.6 86.25h0M222.96 86.06h0M234.1 83.1h0M215.27 83.75h0M224.52 77.38h0M241.48 84.37h0M223.84 81.61h0M230.12 93.44h0M233.72 83.72h0M235.06 77.16h0M223.77 83.72h0M206.68 100.21h0M229.37 83.18h0M232.01 80.3h0M236.01 82.93h0M224.67 88.09h0M228.26 94.1h0M233.71 83.32h0M244.57 74.72h0M234.92 84.29h0M226.06 92.36h0M222.17 80.13h0M233.37 73.81h0M231.73 78.21h0M243.16 78.4h0M217.84 86.24h0M234.91 84.81h0M225.36 84.51h0M217.39 76.57h0M219.5 85.39h0M227.98 80.23h0M223.14 89.44h0M223.32 92.04h0M225.16 86.73h0M232.35 88.51h0M233.17 84.27h0M228.51 79h0M235.55 79.85h0M230.01 80.53h0M237.29 86.42h0M238.76 60.13h0M232.7 75.79h0M241.69 74.9h0M213.62 66.92h0M219.85 84.98h0M225.38 80.98h0M234.99 88.18h0M218.63 59.27h0M233.65 84.57h0M229.57 80.61h0M215.55 91.85h0M247.18 76.52h0M225.63 78.94h0M231.11 79.96h0M237.24 76.51h0M230.58 87.17h0M232.89 93.27h0M229.28 68.56h0M226.23 75.75h0M247.78 73.1h0M240.45 85h0M224.1 84.04h0M227.86 86.13h0M232.12 84.42h0M235.92 88.09h0M234.56 71.18h0M230.45 95.35h0M238.36 70.68h0M227.12 93.3h0M224.99 64.29h0M232.83 76.39h0M231.95 89.81h0M227.32 93.46h0M242.59 69.68h0M210.83 86.12h0M207.72 89.68h0M240.46 66.37h0M214.21 88.47h0M222.94 90.3h0M240.13 95.66h0M220.83 86.65h0M248.02 80.92h0M236.53 68.46h0M235.7 79.18h0M238.4 76.89h0M215.19 87.62h0M222.92 77.64h0M241.64 69h0M223.33 89.95h0M228.33 85.59h0M225.34 70.25h0M224.13 98.67h0M233.12 83.11h0M233.84 76.92h0M229.51 72.5h0M225.47 79.24h0M231.31 92.48h0M218.4 72.8h0M228.38 91.86h0M233.3 70.44h0M218.55 80.5h0M252.85 59.38h0M244.4 74.28h0M244.18 73.84h0M237.48 85.52h0M245.17 82.72h0M223.12 86.96h0M248.66 77.44h0M227.07 78.72h0M227.39 81.46h0M252.9 65.64h0M243.43 70.33h0M240.06 88.24h0M248.46 67.29h0M242.53 83.29h0M237.44 85.88h0M219.32 86.01h0M239.39 76.7h0M242.08 63.57h0M248.49 46.87h0M240.71 43.47h0M235.83 48.93h0M236.42 44.43h0M251.43 47.54h0M240.46 46.59h0M255.87 44.41h0M257.84 45.72h0M246.42 46.43h0M259.42 44.13h0M249.85 43.91h0M255.85 50.19h0M262.83 61.35h0M263.28 60.98h0M257.57 58.05h0M262.14 61.13h0M255.28 59.42h0M266.37 63.2h0M246.27 58.78h0M241.68 56.88h0M248.28 62.37h0M255.19 61.96h0M271.29 37.03h0M288.23 20.62h0M234.51 102.13h0" stroke="#3c50d0" stroke-opacity="0.9" stroke-width="1.2" stroke-linecap="round" fill="none"/>
<path d="M266.74 77.5h0M263.98 73.97h0M284.48 81.41h0M263.02 60.13h0M258.05 73.26h0M232.78 57.68h0M260.13 99h0M266.06 59.78h0M253.76 87.23h0M268.3 77.27h0M252.95 93.36h0M268.01 78.04h0M247.33 86.19h0M255.53 82.72h0M273.92 81.36h0M258.63 92.67h0M268.62 68.39h0M234.22 94.05h0M276.31 82.45h0M255.48 67.63h0M265.6 91.65h0M250.55 72.01h0M257.51 84.83h0M248.23 80.2h0M260.76 77.7h0M275.76 84.95h0M242.89 68.31h0M271.11 68.05h0M286.82 85.07h0M283.48 78.53h0M260.2 91.37h0M289.9 63.45h0M276.72 72.81h0M254.09 90.18h0M287.72 84.03h0M249.57 71.58h0M253.56 84.8h0M249.1 102.43h0M256.07 72.48h0M274.71 67.1h0M264.63 91.97h0M267.03 71.54h0M247.1 80.3h0M253.97 70.9h0M292.37 74.55h0M253.62 88.8h0M261.64 53.05h0M256.27 87.02h0M262.91 86.63h0M270.23 78.49h0M261.15 60.33h0M256.34 96.28h0M264.28 80.03h0M268.97 83.81h0M266.52 79.24h0M278.8 78.3h0M257.75 82.48h0M258.29 66.78h0M252.22 93.87h0M255.52 83.29h0M280.72 80.94h0M262.19 78.58h0M263.53 87.41h0M266 73.48h0M262.29 81.51h0M268.04 79.05h0M259.96 89.16h0M272.16 85.27h0M267.14 84.28h0M258.21 79.9h0M274.97 71.17h0M263.45 71.33h0M254.98 86.18h0M239.11 74.09h0M265.83 88.09h0M264.87 70.62h0M254.86 97.03h0M265.74 81.82h0M250.8 69.74h0M288.1 80.35h0M260.53 75.21h0M256.46 74.03h0M287.42 80.78h0M239.66 58.01h0M289.41 70.87h0M256.16 62.15h0M265.81 76.23h0M280.53 84.01h0M268.18 52.95h0M275.42 87h0M280.11 78.62h0M260 103.29h0M260.62 83.27h0M264.36 92.91h0M257.03 78.74h0M270.15 75.88h0M284.88 70.94h0M261.71 88.24h0M262.47 84.85h0M250.41 66.15h0M263.24 87.97h0M274.42 70.89h0M262.74 75.18h0M275.26 60.47h0M278.92 83.92h0M269.3 87.74h0M265.74 80.62h0M288.32 69.97h0M259.23 64.52h0M263.39 93.07h0M268.91 76.42h0M269.54 79.57h0M259.83 84.92h0M274.15 57.66h0M261.03 95.75h0M275.66 64.09h0M277.34 66.65h0M272.88 66.46h0M265.07 76.25h0M254.37 58.14h0M262.18 81.74h0M269.65 60.37h0M258.36 72.52h0M270.97 75.19h0M279.29 70.59h0M265.86 66.74h0M251.52 74.02h0M274.14 72.87h0M260.5 88.48h0M253.76 84.37h0M270.61 77.41h0M277.04 66.68h0M262.4 68.64h0M264.99 87.41h0M294.79 71.95h0M282.06 61.53h0M243.08 65.4h0M263.91 85.56h0M283.96 63.57h0M260.12 75.2h0M262.67 91.68h0M253.61 71.11h0M264.79 66.7h0M301.38 73.62h0M311.07 70.25h0M296.51 66.63h0M277.23 69.79h0M278.11 79.35h0M289.74 67.4h0M271.37 84.5h0M276.55 82.56h0M264.56 79.46h0M275.49 85.44h0M265.3 95.26h0M268.41 66.06h0M277.48 86.64h0M262.09 94.21h0M268.57 79.83h0M265.36 69.34h0M268.45 48.31h0M263.14 87.63h0M289.07 85.08h0M281.08 78.87h0M282.8 80.3h0M267.12 86.8h0M282.66 71.8h0M265.04 84.56h0M269.51 83.36h0M275.7 86.4h0M292.34 73.96h0M281.1 83.58h0M264.14 79.59h0M262.59 79.01h0M272.68 87.21h0M280.39 73.12h0M272.76 78.68h0" stroke="#c8083c" stroke-opacity="0.85" stroke-width="1.5" stroke-linecap="round" fill="none"/>
<path d="M277.33 88.23h0M273.04 90.26h0M275.54 97.33h0M269.96 108.43h0M277.58 108.59h0M286.33 86.72h0M270.15 114.17h0M290.65 94.74h0M289.71 87.87h0M278.52 89.87h0M280.07 93.8h0M284.04 101.9h0M276.03 89.08h0M280.44 87.21h0M279.97 102.74h0M274.47 88.49h0M272.7 92.3h0M268.63 91.99h0M273.81 89.63h0M280.55 108.51h0M284.24 109.9h0M268.26 95.45h0M287.46 87.82h0M285.49 89.24h0M264.25 99.84h0M281.61 105.82h0M280 92.19h0M305.4 97.24h0M269.7 92.51h0M277.98 102.59h0M269.6 99.65h0M272.83 95.79h0M271.21 90.41h0M273.97 106.47h0M283.44 89.99h0M272.87 95.37h0M271.59 91.47h0M306.74 113.27h0M337.51 120.67h0M296.8 93.39h0M272.02 103.96h0M283.32 101.11h0M277.9 104.19h0M327.11 90.26h0M347.35 122.89h0M344.43 111.1h0M303.09 92.9h0M307.52 87.6h0M287.31 107.64h0M284.11 90.94h0M302.28 99.7h0M307.21 96.01h0M286.8 104.44h0M276.18 87.69h0M280.66 93.43h0M305.32 82.04h0M299.76 106.06h0M321.9 95.41h0M336.75 104.21h0M277.15 98.15h0M321.62 122.73h0M286.57 89.7h0M278.81 88.92h0M313.47 108.92h0M329.52 122.19h0M344.52 112.6h0M334.3 100.69h0M338.23 98.23h0M337.31 111.03h0M287.07 96.86h0M316.55 92.45h0M300.51 85.26h0M288.48 106.98h0M306.05 80.83h0M311.73 102.66h0M293.91 111.6h0M291.87 97.82h0M294.66 87.22h0M292 98.16h0M321.11 111.52h0M273.49 92.04h0M279.87 97.27h0M325.42 114.93h0M283.76 114.5h0M330.44 108.94h0M316.34 120.46h0M282.33 95.56h0M289.48 109.9h0M283.51 94.75h0M290.51 89.61h0M294.13 99.15h0M272.03 97.46h0M303.45 83.01h0" stroke="#c00a40" stroke-opacity="0.5" stroke-width="1.6" stroke-linecap="round" fill="none"/>
<g fill="none" stroke="#111" stroke-width="0.7" stroke-opacity="0.9">
<ellipse transform="translate(255.76 47.66) rotate(1)" rx="63.06" ry="32.33"/>
<ellipse transform="translate(235.8 66.3) rotate(5)" rx="24.5" ry="9.5"/>
<ellipse cx="226" cy="89.5" rx="27" ry="13"/>
<ellipse cx="223" cy="80" rx="13.8" ry="6.9"/>
<ellipse cx="234" cy="75" rx="16" ry="5.6"/>
</g>
</g>
<rect x="200.4" y="12.35" width="156.05" height="120.55" fill="none" stroke="#555" stroke-width="0.35"/>
<text transform="translate(200.4 138.65) scale(1 1.2)" class="t">−2</text>
<text transform="translate(222.69 138.65) scale(1 1.2)" class="t">−1</text>
<text transform="translate(244.99 138.65) scale(1 1.2)" class="t">0</text>
<text transform="translate(267.28 138.65) scale(1 1.2)" class="t">1</text>
<text transform="translate(289.57 138.65) scale(1 1.2)" class="t">2</text>
<text transform="translate(311.86 138.65) scale(1 1.2)" class="t">3</text>
<text transform="translate(334.16 138.65) scale(1 1.2)" class="t">4</text>
<text transform="translate(356.45 138.65) scale(1 1.2)" class="t">5</text>
<text transform="translate(197.8 128.91) scale(1 1.2)" class="ty">−4</text>
<text transform="translate(197.8 105.95) scale(1 1.2)" class="ty">−2</text>
<text transform="translate(197.8 82.99) scale(1 1.2)" class="ty">0</text>
<text transform="translate(197.8 60.02) scale(1 1.2)" class="ty">2</text>
<text transform="translate(197.8 37.06) scale(1 1.2)" class="ty">4</text>
<text transform="translate(197.8 14.1) scale(1 1.2)" class="ty">6</text>
<path d="M200.4 132.9v1.5M222.69 132.9v1.5M244.99 132.9v1.5M267.28 132.9v1.5M289.57 132.9v1.5M311.86 132.9v1.5M334.16 132.9v1.5M356.45 132.9v1.5M200.4 127.16h-1.5M200.4 104.2h-1.5M200.4 81.24h-1.5M200.4 58.27h-1.5M200.4 35.31h-1.5M200.4 12.35h-1.5" stroke="#444" stroke-width="0.35" fill="none"/>
<text transform="translate(278.43 9.65) scale(1 1.2)" class="ti">5 clusters</text>
<g clip-path="url(#cp2)">
<g filter="url(#rdbu)" style="isolation:isolate">
<rect x="385.45" y="10.35" width="160.05" height="124.55" fill="#000"/>
<ellipse style="mix-blend-mode:lighten" transform="translate(444.85 41.41) rotate(3)" rx="74.22" ry="37.64" fill="url(#g11)"/>
<ellipse style="mix-blend-mode:lighten" transform="translate(434 64.3) rotate(0)" rx="40.5" ry="22.76" fill="url(#g12)"/>
<ellipse style="mix-blend-mode:lighten" transform="translate(434 64.3) rotate(0)" rx="28.2" ry="13.44" fill="url(#g3)"/>
<ellipse style="mix-blend-mode:lighten" transform="translate(417.6 70) rotate(5)" rx="40.5" ry="22.06" fill="url(#g12)"/>
<ellipse style="mix-blend-mode:lighten" transform="translate(417.6 70) rotate(5)" rx="28.2" ry="12.6" fill="url(#g3)"/>
<ellipse style="mix-blend-mode:lighten" transform="translate(415 82) rotate(0)" rx="36" ry="21.26" fill="url(#g13)"/>
<ellipse style="mix-blend-mode:lighten" transform="translate(415 82) rotate(0)" rx="22.8" ry="11.64" fill="url(#g7)"/>
<ellipse style="mix-blend-mode:lighten" transform="translate(411.5 91.3) rotate(0)" rx="41.5" ry="24.26" fill="url(#g2)"/>
<ellipse style="mix-blend-mode:lighten" transform="translate(411.5 91.3) rotate(0)" rx="29.4" ry="15.24" fill="url(#g5)"/>
<ellipse style="mix-blend-mode:lighten" transform="translate(414.6 80.2) rotate(0)" rx="27" ry="17.06" fill="url(#g14)"/>
<ellipse style="mix-blend-mode:lighten" transform="translate(414.6 80.2) rotate(0)" rx="12" ry="6.6" fill="url(#g7)"/>
<ellipse style="mix-blend-mode:lighten" transform="translate(414 87) rotate(0)" rx="22.5" ry="12" fill="url(#g9)"/>
<ellipse style="mix-blend-mode:lighten" transform="translate(428 60) rotate(0)" rx="33.8" ry="9.1" fill="url(#g10)"/>
<ellipse style="mix-blend-mode:lighten" transform="translate(416 74) rotate(0)" rx="31.2" ry="7.8" fill="url(#g10)"/>
</g>
<path d="M423.54 71.92h0M420.26 83.25h0M413.85 87.85h0M407.75 80.83h0M426.27 77.38h0M413.67 86.62h0M418.8 79.51h0M408.26 82.69h0M421.24 79.67h0M410.42 79.4h0M426.88 72.92h0M427.42 87.83h0M409.26 81.47h0M402.68 82.68h0M420.62 75.95h0M420.19 88.87h0M412.59 93.84h0M403.7 94.94h0M420.11 92.2h0M424.69 71.61h0M420.93 77.53h0M416.3 78.52h0M398.96 91.35h0M432.51 83.32h0M416.12 80.65h0M428.65 71.4h0M419.72 82.64h0M415.34 83.4h0M413.48 92.46h0M424.11 85h0M405.05 82.92h0M426.98 85.65h0M410.78 84.25h0M405.82 89.07h0M409.53 83.38h0M423.62 73.33h0M426.52 84.04h0M424.05 73.38h0M423.62 81.8h0M406.66 81.99h0M426.14 79.99h0M414.57 79.26h0M413.42 83.45h0M423.68 86.39h0M429.22 74.3h0M424.37 80.38h0M417.28 82.94h0M414.09 87.06h0M434 70.01h0M413.37 84.5h0M415.6 88.77h0M411.48 78.77h0M416.94 79.25h0M425.78 74.31h0M423.72 71.76h0M418.04 85.11h0M426.26 77.1h0M412.66 90.82h0M415.43 82.3h0M424.52 89.1h0M410.99 84.35h0M421.69 79.17h0M421.85 84.38h0M422.27 80.37h0M424.19 77.33h0M412.62 86.34h0M416.37 86.44h0M401.93 87.4h0M410.58 80.78h0M410.17 95.51h0M417.06 87.97h0M408.72 84.88h0M408.63 90.04h0M411.7 83.65h0M407.6 82.83h0M407.6 80.68h0M420.78 85.01h0M433 78.28h0M414.34 93.52h0M429.38 76.68h0M415.49 89.22h0M418.49 69.61h0M426.49 81.36h0M417.62 87.98h0M407.79 88.6h0M414.79 88.25h0M422.76 84.68h0M412.33 88.62h0M425.76 77.69h0M414.96 91.98h0M417.58 86.39h0M426.23 82.58h0M407.77 79.98h0M415.11 92.34h0M422.98 85.94h0M414.85 80.35h0M418.55 75.27h0M419.32 98.19h0M411.88 95.57h0M423.29 77.32h0M415.17 94.62h0M402.91 90.25h0M420.47 86.16h0M423.89 82.09h0M414.57 85.5h0M410.29 89.62h0M419.01 78.92h0M416.87 79.31h0M415.04 86.68h0M420.18 84.89h0M428.59 83.97h0M415.38 84.04h0M412.71 89.43h0M416.95 77.83h0M421.62 84.14h0M414.17 83.11h0M423.17 77.05h0M426.43 81.93h0M421.5 75.44h0M416.77 86.56h0M406.26 81.47h0M424.24 75.08h0M414.74 76.97h0M420.83 74.26h0M409.23 81.92h0M415.62 83.71h0M419.35 84.64h0M423.64 83.77h0M409.75 84.64h0M421.26 83.84h0M428.62 76.24h0M411.12 94.36h0M425.41 73.99h0M416.96 86.53h0M418.91 86.85h0M425.66 84.74h0M416.13 78.98h0M426.13 80.35h0M412.5 85.96h0M411.43 98.34h0M402.72 84.01h0M407.68 93.65h0M421.05 78.14h0M413.83 78.69h0M416.14 92.35h0M420.05 79.87h0M418.73 73.86h0M421.53 86.81h0M426.98 71.58h0M422.7 71.82h0M418.42 80.7h0M411.32 93.11h0M421.57 77h0M425.37 85.09h0M402.99 88.88h0M407.68 85.55h0M426.25 74.99h0M409.95 87.56h0M428.55 64.49h0M415.71 88.05h0M422.22 79.27h0M406.62 87.18h0M420.43 79.2h0M416.27 94.55h0M420.26 77.86h0M417.79 84.85h0M406.65 85.57h0M411.16 79.21h0M411.49 78.78h0M416.5 83.41h0M420.58 70.62h0M407.03 90.94h0M408.8 89.2h0M424.27 81.29h0M421.84 71.78h0M442.24 69.02h0M403.67 81.43h0M417.77 83.56h0M406.73 97.29h0M412.28 83.24h0M426.63 80.3h0M416.65 86.25h0M410.01 86.06h0M421.15 83.1h0M402.32 83.75h0M411.57 77.38h0M428.53 84.37h0M410.89 81.61h0M417.17 93.44h0M420.77 83.72h0M422.11 77.16h0M410.82 83.72h0M393.73 100.21h0M416.42 83.18h0M419.06 80.3h0M423.06 82.93h0M411.72 88.09h0M415.31 94.1h0M420.76 83.32h0M431.62 74.72h0M421.97 84.29h0M413.11 92.36h0M409.22 80.13h0M420.42 73.81h0M418.78 78.21h0M430.21 78.4h0M404.89 86.24h0M421.96 84.81h0M412.41 84.51h0M404.44 76.57h0M406.55 85.39h0M415.03 80.23h0M410.19 89.44h0M410.37 92.04h0M412.21 86.73h0M419.4 88.51h0M420.22 84.27h0M415.56 79h0M422.6 79.85h0M417.06 80.53h0M424.34 86.42h0M425.81 60.13h0M419.75 75.79h0M428.74 74.9h0M400.67 66.92h0M406.9 84.98h0M412.43 80.98h0M422.04 88.18h0M405.68 59.27h0M420.7 84.57h0M416.62 80.61h0M402.6 91.85h0M434.23 76.52h0M412.68 78.94h0M418.16 79.96h0M424.29 76.51h0M417.63 87.17h0M419.94 93.27h0M416.33 68.56h0M413.28 75.75h0M434.83 73.1h0M427.5 85h0M411.15 84.04h0M414.91 86.13h0M419.17 84.42h0M422.97 88.09h0M421.61 71.18h0M417.5 95.35h0M425.41 70.68h0M414.17 93.3h0M412.04 64.29h0M419.88 76.39h0M419 89.81h0M414.37 93.46h0M429.64 69.68h0M397.88 86.12h0M394.77 89.68h0M427.51 66.37h0M401.26 88.47h0M409.99 90.3h0M427.18 95.66h0M407.88 86.65h0M435.07 80.92h0M423.58 68.46h0M422.75 79.18h0M425.45 76.89h0M402.24 87.62h0M409.97 77.64h0M428.69 69h0M410.38 89.95h0M415.38 85.59h0M412.39 70.25h0M411.18 98.67h0M420.17 83.11h0M420.89 76.92h0M416.56 72.5h0M412.52 79.24h0M418.36 92.48h0M405.45 72.8h0M415.43 91.86h0M420.35 70.44h0M405.6 80.5h0M439.9 59.38h0M431.45 74.28h0M431.23 73.84h0M424.53 85.52h0M432.22 82.72h0M410.17 86.96h0M435.71 77.44h0M414.12 78.72h0M414.44 81.46h0M439.95 65.64h0M430.48 70.33h0M427.11 88.24h0M435.51 67.29h0M429.58 83.29h0M424.49 85.88h0M406.37 86.01h0M426.44 76.7h0M429.13 63.57h0M435.54 46.87h0M427.76 43.47h0M422.88 48.93h0M423.47 44.43h0M438.48 47.54h0M427.51 46.59h0M442.92 44.41h0M444.89 45.72h0M433.47 46.43h0M446.47 44.13h0M436.9 43.91h0M442.9 50.19h0M449.88 61.35h0M450.33 60.98h0M444.62 58.05h0M449.19 61.13h0M442.33 59.42h0M453.42 63.2h0M433.32 58.78h0M428.73 56.88h0M435.33 62.37h0M442.24 61.96h0M458.34 37.03h0M475.28 20.62h0M421.56 102.13h0" stroke="#3c50d0" stroke-opacity="0.9" stroke-width="1.2" stroke-linecap="round" fill="none"/>
<path d="M453.79 77.5h0M451.03 73.97h0M450.07 60.13h0M445.1 73.26h0M419.83 57.68h0M447.18 99h0M453.11 59.78h0M440.81 87.23h0M455.35 77.27h0M440 93.36h0M455.06 78.04h0M434.38 86.19h0M442.58 82.72h0M445.68 92.67h0M455.67 68.39h0M421.27 94.05h0M442.53 67.63h0M437.6 72.01h0M444.56 84.83h0M435.28 80.2h0M447.81 77.7h0M429.94 68.31h0M458.16 68.05h0M447.25 91.37h0M476.95 63.45h0M463.77 72.81h0M441.14 90.18h0M436.62 71.58h0M440.61 84.8h0M436.15 102.43h0M443.12 72.48h0M461.76 67.1h0M454.08 71.54h0M434.15 80.3h0M441.02 70.9h0M440.67 88.8h0M448.69 53.05h0M443.32 87.02h0M449.96 86.63h0M457.28 78.49h0M448.2 60.33h0M443.39 96.28h0M451.33 80.03h0M453.57 79.24h0M444.8 82.48h0M445.34 66.78h0M439.27 93.87h0M442.57 83.29h0M449.24 78.58h0M453.05 73.48h0M449.34 81.51h0M455.09 79.05h0M447.01 89.16h0M445.26 79.9h0M462.02 71.17h0M450.5 71.33h0M442.03 86.18h0M426.16 74.09h0M451.92 70.62h0M441.91 97.03h0M452.79 81.82h0M437.85 69.74h0M447.58 75.21h0M443.51 74.03h0M426.71 58.01h0M476.46 70.87h0M443.21 62.15h0M452.86 76.23h0M455.23 52.95h0M447.67 83.27h0M444.08 78.74h0M457.2 75.88h0M471.93 70.94h0M448.76 88.24h0M437.46 66.15h0M450.29 87.97h0M461.47 70.89h0M449.79 75.18h0M462.31 60.47h0M452.79 80.62h0M475.37 69.97h0M446.28 64.52h0M450.44 93.07h0M455.96 76.42h0M456.59 79.57h0M446.88 84.92h0M461.2 57.66h0M448.08 95.75h0M462.71 64.09h0M464.39 66.65h0M459.93 66.46h0M452.12 76.25h0M441.42 58.14h0M449.23 81.74h0M456.7 60.37h0M445.41 72.52h0M458.02 75.19h0M466.34 70.59h0M452.91 66.74h0M438.57 74.02h0M461.19 72.87h0M447.55 88.48h0M440.81 84.37h0M457.66 77.41h0M464.09 66.68h0M449.45 68.64h0M481.84 71.95h0M469.11 61.53h0M430.13 65.4h0M471.01 63.57h0M447.17 75.2h0M449.72 91.68h0M440.66 71.11h0M451.84 66.7h0M483.56 66.63h0M464.28 69.79h0M476.79 67.4h0M451.61 79.46h0M455.46 66.06h0M449.14 94.21h0M455.62 79.83h0M452.41 69.34h0M455.5 48.31h0M450.19 87.63h0M469.71 71.8h0M451.19 79.59h0M449.64 79.01h0M467.44 73.12h0M459.81 78.68h0" stroke="#c8083c" stroke-opacity="0.85" stroke-width="1.5" stroke-linecap="round" fill="none"/>
<path d="M464.38 88.23h0M471.53 81.41h0M460.09 90.26h0M462.59 97.33h0M460.97 81.36h0M463.36 82.45h0M452.65 91.65h0M462.81 84.95h0M473.87 85.07h0M470.53 78.53h0M474.77 84.03h0M457.01 108.43h0M464.63 108.59h0M473.38 86.72h0M451.68 91.97h0M457.2 114.17h0M479.42 74.55h0M477.7 94.74h0M476.76 87.87h0M465.57 89.87h0M467.12 93.8h0M456.02 83.81h0M471.09 101.9h0M465.85 78.3h0M463.08 89.08h0M467.77 80.94h0M450.58 87.41h0M467.49 87.21h0M467.02 102.74h0M459.21 85.27h0M454.19 84.28h0M461.52 88.49h0M452.88 88.09h0M459.75 92.3h0M455.68 91.99h0M475.15 80.35h0M474.47 80.78h0M460.86 89.63h0M467.6 108.51h0M467.58 84.01h0M462.47 87h0M467.16 78.62h0M447.05 103.29h0M471.29 109.9h0M451.41 92.91h0M455.31 95.45h0M474.51 87.82h0M472.54 89.24h0M451.3 99.84h0M468.66 105.82h0M467.05 92.19h0M449.52 84.85h0M492.45 97.24h0M456.75 92.51h0M465.03 102.59h0M465.97 83.92h0M456.35 87.74h0M456.65 99.65h0M459.88 95.79h0M458.26 90.41h0M461.02 106.47h0M470.49 89.99h0M459.92 95.37h0M452.04 87.41h0M450.96 85.56h0M458.64 91.47h0M493.79 113.27h0M524.56 120.67h0M483.85 93.39h0M459.07 103.96h0M470.37 101.11h0M464.95 104.19h0M488.43 73.62h0M514.16 90.26h0M498.12 70.25h0M465.16 79.35h0M534.4 122.89h0M531.48 111.1h0M490.14 92.9h0M494.57 87.6h0M458.42 84.5h0M463.6 82.56h0M462.54 85.44h0M474.36 107.64h0M471.16 90.94h0M452.35 95.26h0M489.33 99.7h0M494.26 96.01h0M473.85 104.44h0M463.23 87.69h0M467.71 93.43h0M492.37 82.04h0M464.53 86.64h0M486.81 106.06h0M508.95 95.41h0M523.8 104.21h0M464.2 98.15h0M508.67 122.73h0M473.62 89.7h0M465.86 88.92h0M500.52 108.92h0M476.12 85.08h0M516.57 122.19h0M531.57 112.6h0M521.35 100.69h0M525.28 98.23h0M524.36 111.03h0M468.13 78.87h0M474.12 96.86h0M469.85 80.3h0M503.6 92.45h0M487.56 85.26h0M475.53 106.98h0M454.17 86.8h0M493.1 80.83h0M498.78 102.66h0M452.09 84.56h0M456.56 83.36h0M480.96 111.6h0M478.92 97.82h0M481.71 87.22h0M462.75 86.4h0M479.05 98.16h0M508.16 111.52h0M460.54 92.04h0M466.92 97.27h0M512.47 114.93h0M470.81 114.5h0M517.49 108.94h0M503.39 120.46h0M469.38 95.56h0M476.53 109.9h0M479.39 73.96h0M470.56 94.75h0M468.15 83.58h0M477.56 89.61h0M459.73 87.21h0M481.18 99.15h0M459.08 97.46h0M490.5 83.01h0" stroke="#c00a40" stroke-opacity="0.5" stroke-width="1.6" stroke-linecap="round" fill="none"/>
<g fill="none" stroke="#111" stroke-width="0.7" stroke-opacity="0.9">
<ellipse transform="translate(444.85 41.41) rotate(3)" rx="52.27" ry="26.51"/>
<ellipse cx="434" cy="64.3" rx="23.5" ry="11.2"/>
<ellipse transform="translate(417.6 70) rotate(5)" rx="23.5" ry="10.5"/>
<ellipse cx="415" cy="82" rx="19" ry="9.7"/>
<ellipse cx="411.5" cy="91.3" rx="24.5" ry="12.7"/>
<ellipse cx="414.6" cy="80.2" rx="10" ry="5.5"/>
</g>
</g>
<rect x="387.45" y="12.35" width="156.05" height="120.55" fill="none" stroke="#555" stroke-width="0.35"/>
<text transform="translate(387.45 138.65) scale(1 1.2)" class="t">−2</text>
<text transform="translate(409.74 138.65) scale(1 1.2)" class="t">−1</text>
<text transform="translate(432.04 138.65) scale(1 1.2)" class="t">0</text>
<text transform="translate(454.33 138.65) scale(1 1.2)" class="t">1</text>
<text transform="translate(476.62 138.65) scale(1 1.2)" class="t">2</text>
<text transform="translate(498.91 138.65) scale(1 1.2)" class="t">3</text>
<text transform="translate(521.21 138.65) scale(1 1.2)" class="t">4</text>
<text transform="translate(543.5 138.65) scale(1 1.2)" class="t">5</text>
<text transform="translate(384.85 128.91) scale(1 1.2)" class="ty">−4</text>
<text transform="translate(384.85 105.95) scale(1 1.2)" class="ty">−2</text>
<text transform="translate(384.85 82.99) scale(1 1.2)" class="ty">0</text>
<text transform="translate(384.85 60.02) scale(1 1.2)" class="ty">2</text>
<text transform="translate(384.85 37.06) scale(1 1.2)" class="ty">4</text>
<text transform="translate(384.85 14.1) scale(1 1.2)" class="ty">6</text>
<path d="M387.45 132.9v1.5M409.74 132.9v1.5M432.04 132.9v1.5M454.33 132.9v1.5M476.62 132.9v1.5M498.91 132.9v1.5M521.21 132.9v1.5M543.5 132.9v1.5M387.45 127.16h-1.5M387.45 104.2h-1.5M387.45 81.24h-1.5M387.45 58.27h-1.5M387.45 35.31h-1.5M387.45 12.35h-1.5" stroke="#444" stroke-width="0.35" fill="none"/>
<text transform="translate(465.48 9.65) scale(1 1.2)" class="ti">7 clusters</text>
<g clip-path="url(#cp3)">
<g filter="url(#rdbu)" style="isolation:isolate">
<rect x="11.45" y="155.2" width="160.05" height="124.55" fill="#000"/>
<ellipse style="mix-blend-mode:lighten" transform="translate(93 173) rotate(0)" rx="41.1" ry="20.7" fill="url(#g15)"/>
<ellipse style="mix-blend-mode:lighten" transform="translate(93 173) rotate(0)" rx="21.72" ry="11.04" fill="url(#g16)"/>
<ellipse style="mix-blend-mode:lighten" transform="translate(64 190.7) rotate(0)" rx="30.2" ry="15.1" fill="url(#g17)"/>
<ellipse style="mix-blend-mode:lighten" transform="translate(64 190.7) rotate(0)" rx="12.24" ry="6.12" fill="url(#g18)"/>
<ellipse style="mix-blend-mode:lighten" transform="translate(59.9 206.3) rotate(0)" rx="34.4" ry="19" fill="url(#g19)"/>
<ellipse style="mix-blend-mode:lighten" transform="translate(59.9 206.3) rotate(0)" rx="24.48" ry="11.04" fill="url(#g3)"/>
<ellipse style="mix-blend-mode:lighten" transform="translate(41.6 211.4) rotate(0)" rx="37.3" ry="18.2" fill="url(#g20)"/>
<ellipse style="mix-blend-mode:lighten" transform="translate(41.6 211.4) rotate(0)" rx="20.76" ry="9.84" fill="url(#g21)"/>
<ellipse style="mix-blend-mode:lighten" transform="translate(54 215) rotate(0)" rx="32" ry="15" fill="url(#g22)"/>
<ellipse style="mix-blend-mode:lighten" transform="translate(54 215) rotate(0)" rx="14.4" ry="6" fill="url(#g21)"/>
<ellipse style="mix-blend-mode:lighten" transform="translate(43.1 221.6) rotate(0)" rx="38.9" ry="17.1" fill="url(#g23)"/>
<ellipse style="mix-blend-mode:lighten" transform="translate(43.1 221.6) rotate(0)" rx="22.68" ry="8.52" fill="url(#g24)"/>
<ellipse style="mix-blend-mode:lighten" transform="translate(37 237) rotate(-3)" rx="42" ry="21.2" fill="url(#g25)"/>
<ellipse style="mix-blend-mode:lighten" transform="translate(37 237) rotate(-3)" rx="26.4" ry="13.44" fill="url(#g3)"/>
<ellipse style="mix-blend-mode:lighten" transform="translate(45.7 234.4) rotate(0)" rx="34.3" ry="15.6" fill="url(#g26)"/>
<ellipse style="mix-blend-mode:lighten" transform="translate(45.7 234.4) rotate(0)" rx="17.16" ry="6.72" fill="url(#g24)"/>
<ellipse style="mix-blend-mode:lighten" transform="translate(40 227) rotate(0)" rx="34" ry="16" fill="url(#g27)"/>
<ellipse style="mix-blend-mode:lighten" transform="translate(40 227) rotate(0)" rx="16.8" ry="7.2" fill="url(#g21)"/>
<ellipse style="mix-blend-mode:lighten" transform="translate(52 226) rotate(0)" rx="34" ry="19" fill="url(#g28)"/>
<ellipse style="mix-blend-mode:lighten" transform="translate(40 203) rotate(0)" rx="36" ry="17" fill="url(#g29)"/>
<ellipse style="mix-blend-mode:lighten" transform="translate(62 224) rotate(-10)" rx="40" ry="24" fill="url(#g30)"/>
</g>
<path d="M49.54 216.77h0M46.26 228.1h0M39.85 232.7h0M33.75 225.68h0M52.27 222.23h0M39.67 231.47h0M44.8 224.36h0M34.26 227.54h0M47.24 224.52h0M36.42 224.25h0M52.88 217.77h0M53.42 232.68h0M35.26 226.32h0M28.68 227.53h0M46.62 220.8h0M46.19 233.72h0M38.59 238.69h0M29.7 239.79h0M46.11 237.05h0M50.69 216.46h0M46.93 222.38h0M42.3 223.37h0M24.96 236.2h0M58.51 228.17h0M42.12 225.5h0M54.65 216.25h0M45.72 227.49h0M41.34 228.25h0M39.48 237.31h0M50.11 229.85h0M31.05 227.77h0M52.98 230.5h0M36.78 229.1h0M31.82 233.92h0M35.53 228.23h0M49.62 218.18h0M52.52 228.89h0M50.05 218.23h0M49.62 226.65h0M32.66 226.84h0M52.14 224.84h0M40.57 224.11h0M39.42 228.3h0M49.68 231.24h0M55.22 219.15h0M50.37 225.23h0M43.28 227.79h0M40.09 231.91h0M60 214.86h0M39.37 229.35h0M41.6 233.62h0M37.48 223.62h0M42.94 224.1h0M51.78 219.16h0M49.72 216.61h0M44.04 229.96h0M52.26 221.95h0M38.66 235.67h0M41.43 227.15h0M50.52 233.95h0M36.99 229.2h0M47.69 224.02h0M47.85 229.23h0M48.27 225.22h0M50.19 222.18h0M38.62 231.19h0M42.37 231.29h0M27.93 232.25h0M36.58 225.63h0M36.17 240.36h0M43.06 232.82h0M34.72 229.73h0M34.63 234.89h0M37.7 228.5h0M33.6 227.68h0M33.6 225.53h0M46.78 229.86h0M59 223.13h0M40.34 238.37h0M55.38 221.53h0M41.49 234.07h0M44.49 214.46h0M52.49 226.21h0M43.62 232.83h0M33.79 233.45h0M40.79 233.1h0M48.76 229.53h0M38.33 233.47h0M51.76 222.54h0M40.96 236.83h0M43.58 231.24h0M52.23 227.43h0M33.77 224.83h0M41.11 237.19h0M48.98 230.79h0M40.85 225.2h0M44.55 220.12h0M45.32 243.04h0M37.88 240.42h0M49.29 222.17h0M41.17 239.47h0M28.91 235.1h0M46.47 231.01h0M49.89 226.94h0M40.57 230.35h0M36.29 234.47h0M45.01 223.77h0M42.87 224.16h0M41.04 231.53h0M46.18 229.74h0M54.59 228.82h0M41.38 228.89h0M38.71 234.28h0M42.95 222.68h0M47.62 228.99h0M40.17 227.96h0M49.17 221.9h0M52.43 226.78h0M47.5 220.29h0M42.77 231.41h0M32.26 226.32h0M50.24 219.93h0M40.74 221.82h0M46.83 219.11h0M35.23 226.77h0M41.62 228.56h0M45.35 229.49h0M49.64 228.62h0M35.75 229.49h0M47.26 228.69h0M54.62 221.09h0M37.12 239.21h0M51.41 218.84h0M42.96 231.38h0M44.91 231.7h0M51.66 229.59h0M42.13 223.83h0M52.13 225.2h0M38.5 230.81h0M37.43 243.19h0M28.72 228.86h0M33.68 238.5h0M47.05 222.99h0M39.83 223.54h0M42.14 237.2h0M46.05 224.72h0M44.73 218.71h0M47.53 231.66h0M52.98 216.43h0M48.7 216.67h0M44.42 225.55h0M37.32 237.96h0M47.57 221.85h0M51.37 229.94h0M28.99 233.73h0M33.68 230.4h0M52.25 219.84h0M35.95 232.41h0M54.55 209.34h0M41.71 232.9h0M48.22 224.12h0M32.62 232.03h0M46.43 224.05h0M42.27 239.4h0M46.26 222.71h0M43.79 229.7h0M32.65 230.42h0M37.16 224.06h0M37.49 223.63h0M42.5 228.26h0M46.58 215.47h0M33.03 235.79h0M34.8 234.05h0M50.27 226.14h0M47.84 216.63h0M68.24 213.87h0M29.67 226.28h0M43.77 228.41h0M32.73 242.14h0M38.28 228.09h0M52.63 225.15h0M42.65 231.1h0M36.01 230.91h0M47.15 227.95h0M28.32 228.6h0M37.57 222.23h0M54.53 229.22h0M36.89 226.46h0M43.17 238.29h0M46.77 228.57h0M48.11 222.01h0M36.82 228.57h0M19.73 245.06h0M42.42 228.03h0M45.06 225.15h0M49.06 227.78h0M37.72 232.94h0M41.31 238.95h0M46.76 228.17h0M57.62 219.57h0M47.97 229.14h0M39.11 237.21h0M35.22 224.98h0M46.42 218.66h0M44.78 223.06h0M56.21 223.25h0M30.89 231.09h0M47.96 229.66h0M38.41 229.36h0M30.44 221.42h0M32.55 230.24h0M41.03 225.08h0M36.19 234.29h0M36.37 236.89h0M38.21 231.58h0M45.4 233.36h0M46.22 229.12h0M41.56 223.85h0M48.6 224.7h0M43.06 225.38h0M50.34 231.27h0M51.81 204.98h0M45.75 220.64h0M54.74 219.75h0M26.67 211.77h0M32.9 229.83h0M38.43 225.83h0M48.04 233.03h0M31.68 204.12h0M46.7 229.42h0M42.62 225.46h0M28.6 236.7h0M60.23 221.37h0M38.68 223.79h0M44.16 224.81h0M50.29 221.36h0M43.63 232.02h0M45.94 238.12h0M42.33 213.41h0M39.28 220.6h0M60.83 217.95h0M53.5 229.85h0M37.15 228.89h0M40.91 230.98h0M45.17 229.27h0M48.97 232.94h0M47.61 216.03h0M43.5 240.2h0M51.41 215.53h0M40.17 238.15h0M38.04 209.14h0M45.88 221.24h0M45 234.66h0M40.37 238.31h0M55.64 214.53h0M23.88 230.97h0M20.77 234.53h0M53.51 211.22h0M27.26 233.32h0M35.99 235.15h0M53.18 240.51h0M33.88 231.5h0M61.07 225.77h0M49.58 213.31h0M48.75 224.03h0M51.45 221.74h0M28.24 232.47h0M35.97 222.49h0M54.69 213.85h0M36.38 234.8h0M41.38 230.44h0M38.39 215.1h0M37.18 243.52h0M46.17 227.96h0M46.89 221.77h0M42.56 217.35h0M38.52 224.09h0M44.36 237.33h0M31.45 217.65h0M41.43 236.71h0M46.35 215.29h0M31.6 225.35h0M65.9 204.23h0M57.45 219.13h0M57.23 218.69h0M50.53 230.37h0M58.22 227.57h0M36.17 231.81h0M61.71 222.29h0M40.12 223.57h0M40.44 226.31h0M65.95 210.49h0M56.48 215.18h0M53.11 233.09h0M61.51 212.14h0M55.58 228.14h0M50.49 230.73h0M32.37 230.86h0M52.44 221.55h0M55.13 208.42h0M61.54 191.72h0M53.76 188.32h0M48.88 193.78h0M49.47 189.28h0M64.48 192.39h0M53.51 191.44h0M68.92 189.26h0M70.89 190.57h0M59.47 191.28h0M72.47 188.98h0M62.9 188.76h0M68.9 195.04h0M75.88 206.2h0M76.33 205.83h0M70.62 202.9h0M75.19 205.98h0M68.33 204.27h0M79.42 208.05h0M59.32 203.63h0M54.73 201.73h0M61.33 207.22h0M68.24 206.81h0M84.34 181.88h0M101.28 165.47h0M47.56 246.98h0" stroke="#3c50d0" stroke-opacity="0.9" stroke-width="1.2" stroke-linecap="round" fill="none"/>
<path d="M79.79 222.35h0M77.03 218.82h0M86.09 235.11h0M76.07 204.98h0M71.1 218.11h0M45.83 202.53h0M79.11 204.63h0M66.81 232.08h0M81.35 222.12h0M66 238.21h0M81.06 222.89h0M60.38 231.04h0M68.58 227.57h0M86.97 226.21h0M71.68 237.52h0M81.67 213.24h0M47.27 238.9h0M89.36 227.3h0M68.53 212.48h0M78.65 236.5h0M63.6 216.86h0M70.56 229.68h0M61.28 225.05h0M73.81 222.55h0M88.81 229.8h0M55.94 213.16h0M84.16 212.9h0M73.25 236.22h0M89.77 217.66h0M67.14 235.03h0M62.62 216.43h0M66.61 229.65h0M62.15 247.28h0M69.12 217.33h0M87.76 211.95h0M77.68 236.82h0M80.08 216.39h0M60.15 225.15h0M67.02 215.75h0M66.67 233.65h0M74.69 197.9h0M69.32 231.87h0M75.96 231.48h0M83.28 223.34h0M74.2 205.18h0M69.39 241.13h0M77.33 224.88h0M82.02 228.66h0M79.57 224.09h0M91.85 223.15h0M70.8 227.33h0M71.34 211.63h0M65.27 238.72h0M68.57 228.14h0M89.08 233.93h0M93.77 225.79h0M75.24 223.43h0M76.58 232.26h0M79.05 218.33h0M75.34 226.36h0M81.09 223.9h0M73.01 234.01h0M85.21 230.12h0M80.19 229.13h0M87.52 233.34h0M71.26 224.75h0M88.02 216.02h0M76.5 216.18h0M68.03 231.03h0M52.16 218.94h0M78.88 232.94h0M77.92 215.47h0M67.91 241.88h0M78.79 226.67h0M81.68 236.84h0M63.85 214.59h0M73.58 220.06h0M69.51 218.88h0M52.71 202.86h0M86.86 234.48h0M69.21 207h0M78.86 221.08h0M93.58 228.86h0M81.23 197.8h0M88.47 231.85h0M93.16 223.47h0M73.67 228.12h0M77.41 237.76h0M70.08 223.59h0M83.2 220.73h0M74.76 233.09h0M75.52 229.7h0M63.46 211h0M76.29 232.82h0M82.75 237.36h0M87.47 215.74h0M75.79 220.03h0M88.31 205.32h0M91.97 228.77h0M82.35 232.59h0M78.79 225.47h0M72.28 209.37h0M76.44 237.92h0M81.96 221.27h0M82.59 224.42h0M72.88 229.77h0M87.2 202.51h0M74.08 240.6h0M84.26 235.26h0M88.71 208.94h0M90.39 211.5h0M85.93 211.31h0M78.12 221.1h0M67.42 202.99h0M75.23 226.59h0M82.7 205.22h0M71.41 217.37h0M84.02 220.04h0M92.34 215.44h0M78.91 211.59h0M64.57 218.87h0M87.19 217.72h0M73.55 233.33h0M66.81 229.22h0M83.66 222.26h0M90.09 211.53h0M75.45 213.49h0M78.04 232.26h0M56.13 210.25h0M76.96 230.41h0M84.64 236.32h0M73.17 220.05h0M75.72 236.53h0M66.66 215.96h0M77.84 211.55h0M90.28 214.64h0M91.16 224.2h0M84.42 229.35h0M89.6 227.41h0M77.61 224.31h0M88.54 230.29h0M78.35 240.11h0M81.46 210.91h0M89.23 232.54h0M90.53 231.49h0M75.14 239.06h0M81.62 224.68h0M78.41 214.19h0M81.5 193.16h0M76.19 232.48h0M94.13 223.72h0M80.17 231.65h0M95.71 216.65h0M78.09 229.41h0M82.56 228.21h0M88.75 231.25h0M77.19 224.44h0M75.64 223.86h0M85.73 232.06h0M93.44 217.97h0M85.81 223.53h0" stroke="#c8083c" stroke-opacity="0.85" stroke-width="1.5" stroke-linecap="round" fill="none"/>
<path d="M90.38 233.08h0M97.53 226.26h0M73.18 243.85h0M88.59 242.18h0M99.87 229.92h0M96.53 223.38h0M102.95 208.3h0M100.77 228.88h0M83.01 253.28h0M90.63 253.44h0M99.38 231.57h0M83.2 259.02h0M105.42 219.4h0M103.7 239.59h0M102.76 232.72h0M91.57 234.72h0M93.12 238.65h0M97.09 246.75h0M93.49 232.06h0M93.02 247.59h0M85.75 237.15h0M101.15 225.2h0M100.47 225.63h0M102.46 215.72h0M93.6 253.36h0M73.05 248.14h0M97.29 254.75h0M81.31 240.3h0M100.51 232.67h0M98.54 234.09h0M97.93 215.79h0M77.3 244.69h0M94.66 250.67h0M93.05 237.04h0M118.45 242.09h0M91.03 247.44h0M82.65 244.5h0M101.37 214.82h0M85.88 240.64h0M87.02 251.32h0M96.49 234.84h0M85.92 240.22h0M107.84 216.8h0M95.11 206.38h0M97.01 208.42h0M119.79 258.12h0M150.56 265.52h0M109.85 238.24h0M85.07 248.81h0M96.37 245.96h0M90.95 249.04h0M114.43 218.47h0M140.16 235.11h0M124.12 215.1h0M109.56 211.48h0M102.79 212.25h0M160.4 267.74h0M157.48 255.95h0M116.14 237.75h0M120.57 232.45h0M100.36 252.49h0M97.16 235.79h0M115.33 244.55h0M120.26 240.86h0M99.85 249.29h0M93.71 238.28h0M118.37 226.89h0M112.81 250.91h0M134.95 240.26h0M149.8 249.06h0M90.2 243h0M134.67 267.58h0M99.62 234.55h0M91.86 233.77h0M126.52 253.77h0M102.12 229.93h0M142.57 267.04h0M157.57 257.45h0M147.35 245.54h0M151.28 243.08h0M150.36 255.88h0M100.12 241.71h0M95.85 225.15h0M129.6 237.3h0M113.56 230.11h0M101.53 251.83h0M119.1 225.68h0M124.78 247.51h0M106.96 256.45h0M104.92 242.67h0M107.71 232.07h0M105.05 243.01h0M134.16 256.37h0M86.54 236.89h0M92.92 242.12h0M138.47 259.78h0M96.81 259.35h0M143.49 253.79h0M129.39 265.31h0M95.38 240.41h0M102.53 254.75h0M105.39 218.81h0M96.56 239.6h0M94.15 228.43h0M103.56 234.46h0M107.18 244h0M85.08 242.31h0M116.5 227.86h0" stroke="#c00a40" stroke-opacity="0.5" stroke-width="1.6" stroke-linecap="round" fill="none"/>
<g fill="none" stroke="#111" stroke-width="0.7" stroke-opacity="0.9">
<ellipse cx="93" cy="173" rx="18.1" ry="9.2"/>
<ellipse cx="64" cy="190.7" rx="10.2" ry="5.1"/>
<ellipse cx="59.9" cy="206.3" rx="20.4" ry="9.2"/>
<ellipse cx="41.6" cy="211.4" rx="17.3" ry="8.2"/>
<ellipse cx="54" cy="215" rx="12" ry="5"/>
<ellipse cx="43.1" cy="221.6" rx="18.9" ry="7.1"/>
<ellipse transform="translate(37 237) rotate(-3)" rx="22" ry="11.2"/>
<ellipse cx="45.7" cy="234.4" rx="14.3" ry="5.6"/>
<ellipse cx="40" cy="227" rx="14" ry="6"/>
</g>
</g>
<rect x="13.45" y="157.2" width="156.05" height="120.55" fill="none" stroke="#555" stroke-width="0.35"/>
<text transform="translate(13.45 283.5) scale(1 1.2)" class="t">−2</text>
<text transform="translate(35.74 283.5) scale(1 1.2)" class="t">−1</text>
<text transform="translate(58.04 283.5) scale(1 1.2)" class="t">0</text>
<text transform="translate(80.33 283.5) scale(1 1.2)" class="t">1</text>
<text transform="translate(102.62 283.5) scale(1 1.2)" class="t">2</text>
<text transform="translate(124.91 283.5) scale(1 1.2)" class="t">3</text>
<text transform="translate(147.21 283.5) scale(1 1.2)" class="t">4</text>
<text transform="translate(169.5 283.5) scale(1 1.2)" class="t">5</text>
<text transform="translate(10.85 273.76) scale(1 1.2)" class="ty">−4</text>
<text transform="translate(10.85 250.8) scale(1 1.2)" class="ty">−2</text>
<text transform="translate(10.85 227.84) scale(1 1.2)" class="ty">0</text>
<text transform="translate(10.85 204.87) scale(1 1.2)" class="ty">2</text>
<text transform="translate(10.85 181.91) scale(1 1.2)" class="ty">4</text>
<text transform="translate(10.85 158.95) scale(1 1.2)" class="ty">6</text>
<path d="M13.45 277.75v1.5M35.74 277.75v1.5M58.04 277.75v1.5M80.33 277.75v1.5M102.62 277.75v1.5M124.91 277.75v1.5M147.21 277.75v1.5M169.5 277.75v1.5M13.45 272.01h-1.5M13.45 249.05h-1.5M13.45 226.09h-1.5M13.45 203.12h-1.5M13.45 180.16h-1.5M13.45 157.2h-1.5" stroke="#444" stroke-width="0.35" fill="none"/>
<text transform="translate(91.48 154.5) scale(1 1.2)" class="ti">10 clusters</text>
<g clip-path="url(#cp4)">
<g filter="url(#rdbu)" style="isolation:isolate">
<rect x="198.4" y="155.2" width="160.05" height="124.55" fill="#000"/>
<ellipse style="mix-blend-mode:lighten" transform="translate(288.5 164.8) rotate(0)" rx="23" ry="11.5" fill="url(#g31)"/>
<ellipse style="mix-blend-mode:lighten" transform="translate(271.4 181.2) rotate(0)" rx="23" ry="11.5" fill="url(#g31)"/>
<ellipse style="mix-blend-mode:lighten" transform="translate(234.5 246.3) rotate(0)" rx="23" ry="11.5" fill="url(#g31)"/>
<ellipse style="mix-blend-mode:lighten" transform="translate(251.2 190.1) rotate(0)" rx="26.7" ry="13.4" fill="url(#g32)"/>
<ellipse style="mix-blend-mode:lighten" transform="translate(251.2 190.1) rotate(0)" rx="12.84" ry="6.48" fill="url(#g33)"/>
<ellipse style="mix-blend-mode:lighten" transform="translate(237.5 199.6) rotate(0)" rx="19" ry="9.8" fill="url(#g34)"/>
<ellipse style="mix-blend-mode:lighten" transform="translate(237.5 199.6) rotate(0)" rx="3.6" ry="2.16" fill="url(#g33)"/>
<ellipse style="mix-blend-mode:lighten" transform="translate(260.7 205) rotate(0)" rx="25.5" ry="12.8" fill="url(#g35)"/>
<ellipse style="mix-blend-mode:lighten" transform="translate(260.7 205) rotate(0)" rx="11.4" ry="5.76" fill="url(#g36)"/>
<ellipse style="mix-blend-mode:lighten" transform="translate(223.8 209.8) rotate(0)" rx="27.9" ry="14" fill="url(#g37)"/>
<ellipse style="mix-blend-mode:lighten" transform="translate(223.8 209.8) rotate(0)" rx="14.28" ry="7.2" fill="url(#g38)"/>
<ellipse style="mix-blend-mode:lighten" transform="translate(242.2 207.4) rotate(0)" rx="23.7" ry="11.6" fill="url(#g39)"/>
<ellipse style="mix-blend-mode:lighten" transform="translate(242.2 207.4) rotate(0)" rx="9.24" ry="4.32" fill="url(#g40)"/>
<ellipse style="mix-blend-mode:lighten" transform="translate(225.6 219.9) rotate(0)" rx="30.9" ry="12.2" fill="url(#g41)"/>
<ellipse style="mix-blend-mode:lighten" transform="translate(225.6 219.9) rotate(0)" rx="17.88" ry="5.04" fill="url(#g38)"/>
<ellipse style="mix-blend-mode:lighten" transform="translate(244.6 215.7) rotate(0)" rx="29.7" ry="14" fill="url(#g42)"/>
<ellipse style="mix-blend-mode:lighten" transform="translate(244.6 215.7) rotate(0)" rx="16.44" ry="7.2" fill="url(#g38)"/>
<ellipse style="mix-blend-mode:lighten" transform="translate(223.2 227) rotate(0)" rx="28.5" ry="12.2" fill="url(#g43)"/>
<ellipse style="mix-blend-mode:lighten" transform="translate(223.2 227) rotate(0)" rx="15" ry="5.04" fill="url(#g18)"/>
<ellipse style="mix-blend-mode:lighten" transform="translate(244.6 225.9) rotate(0)" rx="27.3" ry="13.4" fill="url(#g44)"/>
<ellipse style="mix-blend-mode:lighten" transform="translate(244.6 225.9) rotate(0)" rx="13.56" ry="6.48" fill="url(#g38)"/>
<ellipse style="mix-blend-mode:lighten" transform="translate(223.2 237.7) rotate(0)" rx="28.5" ry="14.5" fill="url(#g43)"/>
<ellipse style="mix-blend-mode:lighten" transform="translate(223.2 237.7) rotate(0)" rx="15" ry="7.8" fill="url(#g18)"/>
<ellipse style="mix-blend-mode:lighten" transform="translate(239.3 236) rotate(0)" rx="26.7" ry="16.3" fill="url(#g32)"/>
<ellipse style="mix-blend-mode:lighten" transform="translate(239.3 236) rotate(0)" rx="12.84" ry="9.96" fill="url(#g38)"/>
<ellipse style="mix-blend-mode:lighten" transform="translate(232 222) rotate(0)" rx="24" ry="12" fill="url(#g45)"/>
<ellipse style="mix-blend-mode:lighten" transform="translate(232 222) rotate(0)" rx="9.6" ry="4.8" fill="url(#g18)"/>
<ellipse style="mix-blend-mode:lighten" transform="translate(230 230) rotate(0)" rx="25" ry="12" fill="url(#g46)"/>
<ellipse style="mix-blend-mode:lighten" transform="translate(230 230) rotate(0)" rx="10.8" ry="4.8" fill="url(#g18)"/>
<ellipse style="mix-blend-mode:lighten" transform="translate(235 212) rotate(0)" rx="23" ry="11.5" fill="url(#g47)"/>
<ellipse style="mix-blend-mode:lighten" transform="translate(235 212) rotate(0)" rx="8.4" ry="4.2" fill="url(#g38)"/>
<ellipse style="mix-blend-mode:lighten" transform="translate(216 220) rotate(0)" rx="22" ry="11" fill="url(#g48)"/>
<ellipse style="mix-blend-mode:lighten" transform="translate(216 220) rotate(0)" rx="7.2" ry="3.6" fill="url(#g38)"/>
<ellipse style="mix-blend-mode:lighten" transform="translate(232 241) rotate(0)" rx="23" ry="11" fill="url(#g47)"/>
<ellipse style="mix-blend-mode:lighten" transform="translate(232 241) rotate(0)" rx="8.4" ry="3.6" fill="url(#g38)"/>
<ellipse style="mix-blend-mode:lighten" transform="translate(248 232) rotate(0)" rx="22" ry="11" fill="url(#g48)"/>
<ellipse style="mix-blend-mode:lighten" transform="translate(248 232) rotate(0)" rx="7.2" ry="3.6" fill="url(#g49)"/>
</g>
<path d="M236.49 216.77h0M233.21 228.1h0M226.8 232.7h0M220.7 225.68h0M239.22 222.23h0M226.62 231.47h0M231.75 224.36h0M221.21 227.54h0M234.19 224.52h0M223.37 224.25h0M239.83 217.77h0M240.37 232.68h0M222.21 226.32h0M215.63 227.53h0M233.57 220.8h0M233.14 233.72h0M225.54 238.69h0M216.65 239.79h0M233.06 237.05h0M237.64 216.46h0M233.88 222.38h0M229.25 223.37h0M211.91 236.2h0M245.46 228.17h0M229.07 225.5h0M241.6 216.25h0M232.67 227.49h0M228.29 228.25h0M226.43 237.31h0M237.06 229.85h0M218 227.77h0M239.93 230.5h0M223.73 229.1h0M218.77 233.92h0M222.48 228.23h0M236.57 218.18h0M239.47 228.89h0M237 218.23h0M236.57 226.65h0M219.61 226.84h0M239.09 224.84h0M227.52 224.11h0M226.37 228.3h0M236.63 231.24h0M242.17 219.15h0M237.32 225.23h0M230.23 227.79h0M227.04 231.91h0M246.95 214.86h0M226.32 229.35h0M228.55 233.62h0M224.43 223.62h0M229.89 224.1h0M238.73 219.16h0M236.67 216.61h0M230.99 229.96h0M239.21 221.95h0M225.61 235.67h0M228.38 227.15h0M237.47 233.95h0M223.94 229.2h0M234.64 224.02h0M234.8 229.23h0M235.22 225.22h0M237.14 222.18h0M225.57 231.19h0M229.32 231.29h0M214.88 232.25h0M223.53 225.63h0M223.12 240.36h0M230.01 232.82h0M221.67 229.73h0M221.58 234.89h0M224.65 228.5h0M220.55 227.68h0M220.55 225.53h0M233.73 229.86h0M245.95 223.13h0M227.29 238.37h0M242.33 221.53h0M228.44 234.07h0M231.44 214.46h0M239.44 226.21h0M230.57 232.83h0M220.74 233.45h0M227.74 233.1h0M235.71 229.53h0M225.28 233.47h0M238.71 222.54h0M227.91 236.83h0M230.53 231.24h0M239.18 227.43h0M220.72 224.83h0M228.06 237.19h0M235.93 230.79h0M227.8 225.2h0M231.5 220.12h0M232.27 243.04h0M224.83 240.42h0M236.24 222.17h0M228.12 239.47h0M215.86 235.1h0M233.42 231.01h0M236.84 226.94h0M227.52 230.35h0M223.24 234.47h0M231.96 223.77h0M229.82 224.16h0M227.99 231.53h0M233.13 229.74h0M241.54 228.82h0M228.33 228.89h0M225.66 234.28h0M229.9 222.68h0M234.57 228.99h0M227.12 227.96h0M236.12 221.9h0M239.38 226.78h0M234.45 220.29h0M229.72 231.41h0M219.21 226.32h0M237.19 219.93h0M227.69 221.82h0M233.78 219.11h0M222.18 226.77h0M228.57 228.56h0M232.3 229.49h0M236.59 228.62h0M222.7 229.49h0M234.21 228.69h0M241.57 221.09h0M224.07 239.21h0M238.36 218.84h0M229.91 231.38h0M231.86 231.7h0M238.61 229.59h0M229.08 223.83h0M239.08 225.2h0M225.45 230.81h0M224.38 243.19h0M215.67 228.86h0M220.63 238.5h0M234 222.99h0M226.78 223.54h0M229.09 237.2h0M233 224.72h0M231.68 218.71h0M234.48 231.66h0M239.93 216.43h0M235.65 216.67h0M231.37 225.55h0M224.27 237.96h0M234.52 221.85h0M238.32 229.94h0M215.94 233.73h0M220.63 230.4h0M239.2 219.84h0M222.9 232.41h0M241.5 209.34h0M228.66 232.9h0M235.17 224.12h0M219.57 232.03h0M233.38 224.05h0M229.22 239.4h0M233.21 222.71h0M230.74 229.7h0M219.6 230.42h0M224.11 224.06h0M224.44 223.63h0M229.45 228.26h0M233.53 215.47h0M219.98 235.79h0M221.75 234.05h0M237.22 226.14h0M234.79 216.63h0M255.19 213.87h0M216.62 226.28h0M230.72 228.41h0M219.68 242.14h0M225.23 228.09h0M239.58 225.15h0M229.6 231.1h0M222.96 230.91h0M234.1 227.95h0M215.27 228.6h0M224.52 222.23h0M241.48 229.22h0M223.84 226.46h0M230.12 238.29h0M233.72 228.57h0M235.06 222.01h0M223.77 228.57h0M206.68 245.06h0M229.37 228.03h0M232.01 225.15h0M236.01 227.78h0M224.67 232.94h0M228.26 238.95h0M233.71 228.17h0M244.57 219.57h0M234.92 229.14h0M226.06 237.21h0M222.17 224.98h0M233.37 218.66h0M231.73 223.06h0M243.16 223.25h0M217.84 231.09h0M234.91 229.66h0M225.36 229.36h0M217.39 221.42h0M219.5 230.24h0M227.98 225.08h0M223.14 234.29h0M223.32 236.89h0M225.16 231.58h0M232.35 233.36h0M233.17 229.12h0M228.51 223.85h0M235.55 224.7h0M230.01 225.38h0M237.29 231.27h0M238.76 204.98h0M232.7 220.64h0M241.69 219.75h0M213.62 211.77h0M219.85 229.83h0M225.38 225.83h0M234.99 233.03h0M218.63 204.12h0M233.65 229.42h0M229.57 225.46h0M215.55 236.7h0M247.18 221.37h0M225.63 223.79h0M231.11 224.81h0M237.24 221.36h0M230.58 232.02h0M232.89 238.12h0M229.28 213.41h0M226.23 220.6h0M247.78 217.95h0M240.45 229.85h0M224.1 228.89h0M227.86 230.98h0M232.12 229.27h0M235.92 232.94h0M234.56 216.03h0M230.45 240.2h0M238.36 215.53h0M227.12 238.15h0M224.99 209.14h0M232.83 221.24h0M231.95 234.66h0M227.32 238.31h0M242.59 214.53h0M210.83 230.97h0M207.72 234.53h0M240.46 211.22h0M214.21 233.32h0M222.94 235.15h0M240.13 240.51h0M220.83 231.5h0M248.02 225.77h0M236.53 213.31h0M235.7 224.03h0M238.4 221.74h0M215.19 232.47h0M222.92 222.49h0M241.64 213.85h0M223.33 234.8h0M228.33 230.44h0M225.34 215.1h0M224.13 243.52h0M233.12 227.96h0M233.84 221.77h0M229.51 217.35h0M225.47 224.09h0M231.31 237.33h0M218.4 217.65h0M228.38 236.71h0M233.3 215.29h0M218.55 225.35h0M252.85 204.23h0M244.4 219.13h0M244.18 218.69h0M237.48 230.37h0M245.17 227.57h0M223.12 231.81h0M248.66 222.29h0M227.07 223.57h0M227.39 226.31h0M252.9 210.49h0M243.43 215.18h0M240.06 233.09h0M248.46 212.14h0M242.53 228.14h0M237.44 230.73h0M219.32 230.86h0M239.39 221.55h0M242.08 208.42h0M248.49 191.72h0M240.71 188.32h0M235.83 193.78h0M236.42 189.28h0M251.43 192.39h0M240.46 191.44h0M255.87 189.26h0M257.84 190.57h0M246.42 191.28h0M259.42 188.98h0M249.85 188.76h0M255.85 195.04h0M262.83 206.2h0M263.28 205.83h0M257.57 202.9h0M262.14 205.98h0M255.28 204.27h0M266.37 208.05h0M246.27 203.63h0M241.68 201.73h0M248.28 207.22h0M255.19 206.81h0M271.29 181.88h0M288.23 165.47h0M234.51 246.98h0" stroke="#3c50d0" stroke-opacity="0.9" stroke-width="1.2" stroke-linecap="round" fill="none"/>
<path d="M266.74 222.35h0M263.98 218.82h0M263.02 204.98h0M258.05 218.11h0M232.78 202.53h0M260.13 243.85h0M266.06 204.63h0M253.76 232.08h0M268.3 222.12h0M252.95 238.21h0M268.01 222.89h0M247.33 231.04h0M255.53 227.57h0M258.63 237.52h0M268.62 213.24h0M234.22 238.9h0M255.48 212.48h0M265.6 236.5h0M250.55 216.86h0M257.51 229.68h0M248.23 225.05h0M260.76 222.55h0M242.89 213.16h0M271.11 212.9h0M260.2 236.22h0M254.09 235.03h0M249.57 216.43h0M253.56 229.65h0M249.1 247.28h0M256.07 217.33h0M274.71 211.95h0M264.63 236.82h0M267.03 216.39h0M247.1 225.15h0M253.97 215.75h0M253.62 233.65h0M261.64 197.9h0M256.27 231.87h0M262.91 231.48h0M261.15 205.18h0M256.34 241.13h0M264.28 224.88h0M268.97 228.66h0M266.52 224.09h0M257.75 227.33h0M258.29 211.63h0M252.22 238.72h0M255.52 228.14h0M262.19 223.43h0M263.53 232.26h0M266 218.33h0M262.29 226.36h0M268.04 223.9h0M259.96 234.01h0M267.14 229.13h0M258.21 224.75h0M263.45 216.18h0M254.98 231.03h0M239.11 218.94h0M265.83 232.94h0M264.87 215.47h0M254.86 241.88h0M265.74 226.67h0M250.8 214.59h0M260.53 220.06h0M256.46 218.88h0M239.66 202.86h0M256.16 207h0M265.81 221.08h0M268.18 197.8h0M260.62 228.12h0M264.36 237.76h0M257.03 223.59h0M270.15 220.73h0M261.71 233.09h0M262.47 229.7h0M250.41 211h0M263.24 232.82h0M262.74 220.03h0M275.26 205.32h0M265.74 225.47h0M259.23 209.37h0M263.39 237.92h0M268.91 221.27h0M269.54 224.42h0M259.83 229.77h0M274.15 202.51h0M261.03 240.6h0M275.66 208.94h0M277.34 211.5h0M272.88 211.31h0M265.07 221.1h0M254.37 202.99h0M262.18 226.59h0M269.65 205.22h0M258.36 217.37h0M265.86 211.59h0M251.52 218.87h0M260.5 233.33h0M253.76 229.22h0M277.04 211.53h0M262.4 213.49h0M264.99 232.26h0M282.06 206.38h0M243.08 210.25h0M263.91 230.41h0M260.12 220.05h0M262.67 236.53h0M253.61 215.96h0M264.79 211.55h0M264.56 224.31h0M268.41 210.91h0M262.09 239.06h0M268.57 224.68h0M265.36 214.19h0M268.45 193.16h0M263.14 232.48h0M267.12 231.65h0M265.04 229.41h0M269.51 228.21h0M264.14 224.44h0M262.59 223.86h0" stroke="#c8083c" stroke-opacity="0.85" stroke-width="1.5" stroke-linecap="round" fill="none"/>
<path d="M277.33 233.08h0M284.48 226.26h0M273.04 235.11h0M275.54 242.18h0M273.92 226.21h0M276.31 227.3h0M275.76 229.8h0M286.82 229.92h0M283.48 223.38h0M289.9 208.3h0M276.72 217.66h0M287.72 228.88h0M269.96 253.28h0M277.58 253.44h0M286.33 231.57h0M270.15 259.02h0M292.37 219.4h0M290.65 239.59h0M289.71 232.72h0M278.52 234.72h0M270.23 223.34h0M280.07 238.65h0M284.04 246.75h0M278.8 223.15h0M276.03 233.93h0M280.72 225.79h0M280.44 232.06h0M279.97 247.59h0M272.16 230.12h0M274.47 233.34h0M274.97 216.02h0M272.7 237.15h0M268.63 236.84h0M288.1 225.2h0M287.42 225.63h0M289.41 215.72h0M273.81 234.48h0M280.55 253.36h0M280.53 228.86h0M275.42 231.85h0M280.11 223.47h0M260 248.14h0M284.24 254.75h0M268.26 240.3h0M287.46 232.67h0M285.49 234.09h0M284.88 215.79h0M264.25 244.69h0M281.61 250.67h0M280 237.04h0M305.4 242.09h0M269.7 237.36h0M274.42 215.74h0M277.98 247.44h0M278.92 228.77h0M269.3 232.59h0M269.6 244.5h0M288.32 214.82h0M272.83 240.64h0M271.21 235.26h0M273.97 251.32h0M283.44 234.84h0M270.97 220.04h0M279.29 215.44h0M274.14 217.72h0M270.61 222.26h0M272.87 240.22h0M294.79 216.8h0M283.96 208.42h0M271.59 236.32h0M306.74 258.12h0M337.51 265.52h0M296.8 238.24h0M272.02 248.81h0M283.32 245.96h0M277.9 249.04h0M301.38 218.47h0M327.11 235.11h0M311.07 215.1h0M296.51 211.48h0M277.23 214.64h0M278.11 224.2h0M289.74 212.25h0M347.35 267.74h0M344.43 255.95h0M303.09 237.75h0M307.52 232.45h0M271.37 229.35h0M276.55 227.41h0M275.49 230.29h0M287.31 252.49h0M284.11 235.79h0M265.3 240.11h0M302.28 244.55h0M307.21 240.86h0M286.8 249.29h0M276.18 232.54h0M280.66 238.28h0M305.32 226.89h0M277.48 231.49h0M299.76 250.91h0M321.9 240.26h0M336.75 249.06h0M277.15 243h0M321.62 267.58h0M286.57 234.55h0M278.81 233.77h0M313.47 253.77h0M289.07 229.93h0M329.52 267.04h0M344.52 257.45h0M334.3 245.54h0M338.23 243.08h0M337.31 255.88h0M281.08 223.72h0M287.07 241.71h0M282.8 225.15h0M316.55 237.3h0M300.51 230.11h0M288.48 251.83h0M282.66 216.65h0M306.05 225.68h0M311.73 247.51h0M293.91 256.45h0M291.87 242.67h0M294.66 232.07h0M275.7 231.25h0M292 243.01h0M321.11 256.37h0M273.49 236.89h0M279.87 242.12h0M325.42 259.78h0M283.76 259.35h0M330.44 253.79h0M316.34 265.31h0M282.33 240.41h0M289.48 254.75h0M292.34 218.81h0M283.51 239.6h0M281.1 228.43h0M290.51 234.46h0M272.68 232.06h0M280.39 217.97h0M272.76 223.53h0M294.13 244h0M272.03 242.31h0M303.45 227.86h0" stroke="#c00a40" stroke-opacity="0.5" stroke-width="1.6" stroke-linecap="round" fill="none"/>
<g fill="none" stroke="#111" stroke-width="0.65" stroke-opacity="0.9">
<ellipse cx="251.2" cy="190.1" rx="10.7" ry="5.4"/>
<ellipse cx="237.5" cy="199.6" rx="3" ry="1.8"/>
<ellipse cx="260.7" cy="205" rx="9.5" ry="4.8"/>
<ellipse cx="223.8" cy="209.8" rx="11.9" ry="6"/>
<ellipse cx="242.2" cy="207.4" rx="7.7" ry="3.6"/>
<ellipse cx="225.6" cy="219.9" rx="14.9" ry="4.2"/>
<ellipse cx="244.6" cy="215.7" rx="13.7" ry="6"/>
<ellipse cx="223.2" cy="227" rx="12.5" ry="4.2"/>
<ellipse cx="244.6" cy="225.9" rx="11.3" ry="5.4"/>
<ellipse cx="223.2" cy="237.7" rx="12.5" ry="6.5"/>
<ellipse cx="239.3" cy="236" rx="10.7" ry="8.3"/>
<ellipse cx="232" cy="222" rx="8" ry="4"/>
<ellipse cx="230" cy="230" rx="9" ry="4"/>
<ellipse cx="235" cy="212" rx="7" ry="3.5"/>
<ellipse cx="216" cy="220" rx="6" ry="3"/>
<ellipse cx="232" cy="241" rx="7" ry="3"/>
<ellipse cx="248" cy="232" rx="6" ry="3"/>
</g>
</g>
<rect x="200.4" y="157.2" width="156.05" height="120.55" fill="none" stroke="#555" stroke-width="0.35"/>
<text transform="translate(200.4 283.5) scale(1 1.2)" class="t">−2</text>
<text transform="translate(222.69 283.5) scale(1 1.2)" class="t">−1</text>
<text transform="translate(244.99 283.5) scale(1 1.2)" class="t">0</text>
<text transform="translate(267.28 283.5) scale(1 1.2)" class="t">1</text>
<text transform="translate(289.57 283.5) scale(1 1.2)" class="t">2</text>
<text transform="translate(311.86 283.5) scale(1 1.2)" class="t">3</text>
<text transform="translate(334.16 283.5) scale(1 1.2)" class="t">4</text>
<text transform="translate(356.45 283.5) scale(1 1.2)" class="t">5</text>
<text transform="translate(197.8 273.76) scale(1 1.2)" class="ty">−4</text>
<text transform="translate(197.8 250.8) scale(1 1.2)" class="ty">−2</text>
<text transform="translate(197.8 227.84) scale(1 1.2)" class="ty">0</text>
<text transform="translate(197.8 204.87) scale(1 1.2)" class="ty">2</text>
<text transform="translate(197.8 181.91) scale(1 1.2)" class="ty">4</text>
<text transform="translate(197.8 158.95) scale(1 1.2)" class="ty">6</text>
<path d="M200.4 277.75v1.5M222.69 277.75v1.5M244.99 277.75v1.5M267.28 277.75v1.5M289.57 277.75v1.5M311.86 277.75v1.5M334.16 277.75v1.5M356.45 277.75v1.5M200.4 272.01h-1.5M200.4 249.05h-1.5M200.4 226.09h-1.5M200.4 203.12h-1.5M200.4 180.16h-1.5M200.4 157.2h-1.5" stroke="#444" stroke-width="0.35" fill="none"/>
<text transform="translate(278.43 154.5) scale(1 1.2)" class="ti">20 clusters</text>
<g clip-path="url(#cp5)">
<g filter="url(#rdbu)" style="isolation:isolate">
<rect x="385.45" y="155.2" width="160.05" height="124.55" fill="#000"/>
<ellipse style="mix-blend-mode:lighten" transform="translate(474.8 164.8) rotate(0)" rx="23" ry="11.5" fill="url(#g31)"/>
<ellipse style="mix-blend-mode:lighten" transform="translate(457.9 181.5) rotate(0)" rx="23" ry="11.5" fill="url(#g31)"/>
<ellipse style="mix-blend-mode:lighten" transform="translate(421.5 246.3) rotate(0)" rx="23" ry="11.5" fill="url(#g31)"/>
<ellipse style="mix-blend-mode:lighten" transform="translate(425.3 199.9) rotate(0)" rx="25.6" ry="13" fill="url(#g50)"/>
<ellipse style="mix-blend-mode:lighten" transform="translate(425.3 199.9) rotate(0)" rx="3.12" ry="1.8" fill="url(#g40)"/>
<ellipse style="mix-blend-mode:lighten" transform="translate(406 206.4) rotate(0)" rx="27.7" ry="13.6" fill="url(#g51)"/>
<ellipse style="mix-blend-mode:lighten" transform="translate(406 206.4) rotate(0)" rx="5.64" ry="2.52" fill="url(#g40)"/>
<ellipse style="mix-blend-mode:lighten" transform="translate(426.1 208.1) rotate(0)" rx="27.3" ry="13.6" fill="url(#g52)"/>
<ellipse style="mix-blend-mode:lighten" transform="translate(426.1 208.1) rotate(0)" rx="5.16" ry="2.52" fill="url(#g40)"/>
<ellipse style="mix-blend-mode:lighten" transform="translate(417.3 209.5) rotate(0)" rx="26" ry="13.2" fill="url(#g53)"/>
<ellipse style="mix-blend-mode:lighten" transform="translate(417.3 209.5) rotate(0)" rx="3.6" ry="2.04" fill="url(#g40)"/>
<ellipse style="mix-blend-mode:lighten" transform="translate(434.6 208.6) rotate(0)" rx="25.5" ry="13.2" fill="url(#g54)"/>
<ellipse style="mix-blend-mode:lighten" transform="translate(434.6 208.6) rotate(0)" rx="3" ry="2.04" fill="url(#g40)"/>
<ellipse style="mix-blend-mode:lighten" transform="translate(409.1 212.9) rotate(0)" rx="26.4" ry="13.2" fill="url(#g55)"/>
<ellipse style="mix-blend-mode:lighten" transform="translate(409.1 212.9) rotate(0)" rx="4.08" ry="2.04" fill="url(#g40)"/>
<ellipse style="mix-blend-mode:lighten" transform="translate(419.7 214) rotate(0)" rx="26.8" ry="13.6" fill="url(#g56)"/>
<ellipse style="mix-blend-mode:lighten" transform="translate(419.7 214) rotate(0)" rx="4.56" ry="2.52" fill="url(#g40)"/>
<ellipse style="mix-blend-mode:lighten" transform="translate(429.5 214.9) rotate(0)" rx="27.3" ry="13.6" fill="url(#g52)"/>
<ellipse style="mix-blend-mode:lighten" transform="translate(429.5 214.9) rotate(0)" rx="5.16" ry="2.52" fill="url(#g40)"/>
<ellipse style="mix-blend-mode:lighten" transform="translate(406 220.2) rotate(0)" rx="26.8" ry="14.5" fill="url(#g56)"/>
<ellipse style="mix-blend-mode:lighten" transform="translate(406 220.2) rotate(0)" rx="4.56" ry="3.6" fill="url(#g40)"/>
<ellipse style="mix-blend-mode:lighten" transform="translate(399.2 222.2) rotate(0)" rx="26" ry="13.2" fill="url(#g53)"/>
<ellipse style="mix-blend-mode:lighten" transform="translate(399.2 222.2) rotate(0)" rx="3.6" ry="2.04" fill="url(#g40)"/>
<ellipse style="mix-blend-mode:lighten" transform="translate(421.4 219.7) rotate(0)" rx="27.7" ry="14.1" fill="url(#g51)"/>
<ellipse style="mix-blend-mode:lighten" transform="translate(421.4 219.7) rotate(0)" rx="5.64" ry="3.12" fill="url(#g40)"/>
<ellipse style="mix-blend-mode:lighten" transform="translate(429.9 222.2) rotate(0)" rx="26.8" ry="14.1" fill="url(#g56)"/>
<ellipse style="mix-blend-mode:lighten" transform="translate(429.9 222.2) rotate(0)" rx="4.56" ry="3.12" fill="url(#g40)"/>
<ellipse style="mix-blend-mode:lighten" transform="translate(400.1 227.7) rotate(0)" rx="26" ry="13.6" fill="url(#g53)"/>
<ellipse style="mix-blend-mode:lighten" transform="translate(400.1 227.7) rotate(0)" rx="3.6" ry="2.52" fill="url(#g40)"/>
<ellipse style="mix-blend-mode:lighten" transform="translate(410.3 226.5) rotate(0)" rx="27.7" ry="14.1" fill="url(#g51)"/>
<ellipse style="mix-blend-mode:lighten" transform="translate(410.3 226.5) rotate(0)" rx="5.64" ry="3.12" fill="url(#g40)"/>
<ellipse style="mix-blend-mode:lighten" transform="translate(425.3 227.3) rotate(0)" rx="27.3" ry="14.1" fill="url(#g52)"/>
<ellipse style="mix-blend-mode:lighten" transform="translate(425.3 227.3) rotate(0)" rx="5.16" ry="3.12" fill="url(#g40)"/>
<ellipse style="mix-blend-mode:lighten" transform="translate(401.8 234.5) rotate(0)" rx="26.8" ry="14.5" fill="url(#g56)"/>
<ellipse style="mix-blend-mode:lighten" transform="translate(401.8 234.5) rotate(0)" rx="4.56" ry="3.6" fill="url(#g40)"/>
<ellipse style="mix-blend-mode:lighten" transform="translate(412.5 231.6) rotate(0)" rx="26.4" ry="14.1" fill="url(#g55)"/>
<ellipse style="mix-blend-mode:lighten" transform="translate(412.5 231.6) rotate(0)" rx="4.08" ry="3.12" fill="url(#g40)"/>
<ellipse style="mix-blend-mode:lighten" transform="translate(421.4 233.3) rotate(0)" rx="26.8" ry="14.1" fill="url(#g56)"/>
<ellipse style="mix-blend-mode:lighten" transform="translate(421.4 233.3) rotate(0)" rx="4.56" ry="3.12" fill="url(#g40)"/>
<ellipse style="mix-blend-mode:lighten" transform="translate(403.2 239.6) rotate(0)" rx="27.3" ry="13.6" fill="url(#g52)"/>
<ellipse style="mix-blend-mode:lighten" transform="translate(403.2 239.6) rotate(0)" rx="5.16" ry="2.52" fill="url(#g40)"/>
<ellipse style="mix-blend-mode:lighten" transform="translate(415.4 238.4) rotate(0)" rx="27.7" ry="14.1" fill="url(#g51)"/>
<ellipse style="mix-blend-mode:lighten" transform="translate(415.4 238.4) rotate(0)" rx="5.64" ry="3.12" fill="url(#g40)"/>
<ellipse style="mix-blend-mode:lighten" transform="translate(439 186.8) rotate(0)" rx="25.6" ry="13.2" fill="url(#g50)"/>
<ellipse style="mix-blend-mode:lighten" transform="translate(439 186.8) rotate(0)" rx="3.12" ry="2.04" fill="url(#g40)"/>
<ellipse style="mix-blend-mode:lighten" transform="translate(431.1 190.3) rotate(0)" rx="24.8" ry="12.8" fill="url(#g57)"/>
<ellipse style="mix-blend-mode:lighten" transform="translate(431.1 190.3) rotate(0)" rx="2.16" ry="1.56" fill="url(#g40)"/>
<ellipse style="mix-blend-mode:lighten" transform="translate(441.5 193.8) rotate(0)" rx="27.1" ry="13.5" fill="url(#g58)"/>
<ellipse style="mix-blend-mode:lighten" transform="translate(441.5 193.8) rotate(0)" rx="4.92" ry="2.4" fill="url(#g40)"/>
<ellipse style="mix-blend-mode:lighten" transform="translate(442.8 203.3) rotate(0)" rx="26.8" ry="13.5" fill="url(#g56)"/>
<ellipse style="mix-blend-mode:lighten" transform="translate(442.8 203.3) rotate(0)" rx="4.56" ry="2.4" fill="url(#g40)"/>
<ellipse style="mix-blend-mode:lighten" transform="translate(451.7 205.4) rotate(0)" rx="26" ry="13" fill="url(#g53)"/>
<ellipse style="mix-blend-mode:lighten" transform="translate(451.7 205.4) rotate(0)" rx="3.6" ry="1.8" fill="url(#g40)"/>
<ellipse style="mix-blend-mode:lighten" transform="translate(416 218) rotate(0)" rx="26.5" ry="13.7" fill="url(#g59)"/>
<ellipse style="mix-blend-mode:lighten" transform="translate(416 218) rotate(0)" rx="4.2" ry="2.64" fill="url(#g40)"/>
<ellipse style="mix-blend-mode:lighten" transform="translate(413 223) rotate(0)" rx="26" ry="13.5" fill="url(#g53)"/>
<ellipse style="mix-blend-mode:lighten" transform="translate(413 223) rotate(0)" rx="3.6" ry="2.4" fill="url(#g40)"/>
<ellipse style="mix-blend-mode:lighten" transform="translate(418 228) rotate(0)" rx="26.5" ry="13.5" fill="url(#g59)"/>
<ellipse style="mix-blend-mode:lighten" transform="translate(418 228) rotate(0)" rx="4.2" ry="2.4" fill="url(#g40)"/>
<ellipse style="mix-blend-mode:lighten" transform="translate(408 233) rotate(0)" rx="26" ry="13.5" fill="url(#g53)"/>
<ellipse style="mix-blend-mode:lighten" transform="translate(408 233) rotate(0)" rx="3.6" ry="2.4" fill="url(#g40)"/>
<ellipse style="mix-blend-mode:lighten" transform="translate(395 230) rotate(0)" rx="26" ry="13.5" fill="url(#g53)"/>
<ellipse style="mix-blend-mode:lighten" transform="translate(395 230) rotate(0)" rx="3.6" ry="2.4" fill="url(#g40)"/>
<ellipse style="mix-blend-mode:lighten" transform="translate(396 217) rotate(0)" rx="26" ry="13.5" fill="url(#g53)"/>
<ellipse style="mix-blend-mode:lighten" transform="translate(396 217) rotate(0)" rx="3.6" ry="2.4" fill="url(#g40)"/>
<ellipse style="mix-blend-mode:lighten" transform="translate(425.37 223) rotate(0)" rx="26.07" ry="13.33" fill="url(#g60)"/>
<ellipse style="mix-blend-mode:lighten" transform="translate(425.37 223) rotate(0)" rx="3.69" ry="2.2" fill="url(#g40)"/>
<ellipse style="mix-blend-mode:lighten" transform="translate(413.95 222.76) rotate(0)" rx="26.91" ry="14.12" fill="url(#g61)"/>
<ellipse style="mix-blend-mode:lighten" transform="translate(413.95 222.76) rotate(0)" rx="4.69" ry="3.14" fill="url(#g40)"/>
<ellipse style="mix-blend-mode:lighten" transform="translate(410.51 227.21) rotate(0)" rx="26.83" ry="14.07" fill="url(#g62)"/>
<ellipse style="mix-blend-mode:lighten" transform="translate(410.51 227.21) rotate(0)" rx="4.6" ry="3.09" fill="url(#g40)"/>
<ellipse style="mix-blend-mode:lighten" transform="translate(416.74 217.54) rotate(0)" rx="25.43" ry="12.77" fill="url(#g63)"/>
<ellipse style="mix-blend-mode:lighten" transform="translate(416.74 217.54) rotate(0)" rx="2.92" ry="1.53" fill="url(#g40)"/>
<ellipse style="mix-blend-mode:lighten" transform="translate(408.24 221.67) rotate(0)" rx="26.61" ry="13.9" fill="url(#g64)"/>
<ellipse style="mix-blend-mode:lighten" transform="translate(408.24 221.67) rotate(0)" rx="4.34" ry="2.88" fill="url(#g40)"/>
<ellipse style="mix-blend-mode:lighten" transform="translate(405.51 217.16) rotate(0)" rx="25.58" ry="12.83" fill="url(#g65)"/>
<ellipse style="mix-blend-mode:lighten" transform="translate(405.51 217.16) rotate(0)" rx="3.09" ry="1.6" fill="url(#g40)"/>
<ellipse style="mix-blend-mode:lighten" transform="translate(418.79 236.02) rotate(0)" rx="25.49" ry="12.98" fill="url(#g54)"/>
<ellipse style="mix-blend-mode:lighten" transform="translate(418.79 236.02) rotate(0)" rx="2.99" ry="1.78" fill="url(#g40)"/>
<ellipse style="mix-blend-mode:lighten" transform="translate(421.12 222.83) rotate(0)" rx="26.55" ry="13.7" fill="url(#g66)"/>
<ellipse style="mix-blend-mode:lighten" transform="translate(421.12 222.83) rotate(0)" rx="4.26" ry="2.64" fill="url(#g40)"/>
<ellipse style="mix-blend-mode:lighten" transform="translate(418.1 225.51) rotate(0)" rx="26.98" ry="13.76" fill="url(#g67)"/>
<ellipse style="mix-blend-mode:lighten" transform="translate(418.1 225.51) rotate(0)" rx="4.77" ry="2.71" fill="url(#g40)"/>
<ellipse style="mix-blend-mode:lighten" transform="translate(418.76 220.5) rotate(0)" rx="25.5" ry="12.93" fill="url(#g54)"/>
<ellipse style="mix-blend-mode:lighten" transform="translate(418.76 220.5) rotate(0)" rx="3" ry="1.72" fill="url(#g40)"/>
<ellipse style="mix-blend-mode:lighten" transform="translate(412.67 221.59) rotate(0)" rx="25.51" ry="12.9" fill="url(#g68)"/>
<ellipse style="mix-blend-mode:lighten" transform="translate(412.67 221.59) rotate(0)" rx="3.02" ry="1.68" fill="url(#g40)"/>
<ellipse style="mix-blend-mode:lighten" transform="translate(414.58 225.45) rotate(0)" rx="26.67" ry="13.75" fill="url(#g69)"/>
<ellipse style="mix-blend-mode:lighten" transform="translate(414.58 225.45) rotate(0)" rx="4.4" ry="2.7" fill="url(#g40)"/>
<ellipse style="mix-blend-mode:lighten" transform="translate(403.95 234.07) rotate(0)" rx="25.67" ry="13.07" fill="url(#g70)"/>
<ellipse style="mix-blend-mode:lighten" transform="translate(403.95 234.07) rotate(0)" rx="3.2" ry="1.88" fill="url(#g40)"/>
<ellipse style="mix-blend-mode:lighten" transform="translate(412.88 225.64) rotate(0)" rx="25.43" ry="13.09" fill="url(#g63)"/>
<ellipse style="mix-blend-mode:lighten" transform="translate(412.88 225.64) rotate(0)" rx="2.92" ry="1.91" fill="url(#g40)"/>
<ellipse style="mix-blend-mode:lighten" transform="translate(420.94 217.57) rotate(0)" rx="26.58" ry="13.95" fill="url(#g71)"/>
<ellipse style="mix-blend-mode:lighten" transform="translate(420.94 217.57) rotate(0)" rx="4.29" ry="2.95" fill="url(#g40)"/>
<ellipse style="mix-blend-mode:lighten" transform="translate(403.05 216.7) rotate(0)" rx="26.69" ry="13.91" fill="url(#g69)"/>
<ellipse style="mix-blend-mode:lighten" transform="translate(403.05 216.7) rotate(0)" rx="4.43" ry="2.89" fill="url(#g40)"/>
</g>
<path d="M423.54 216.77h0M420.26 228.1h0M413.85 232.7h0M407.75 225.68h0M426.27 222.23h0M413.67 231.47h0M418.8 224.36h0M408.26 227.54h0M421.24 224.52h0M410.42 224.25h0M426.88 217.77h0M427.42 232.68h0M409.26 226.32h0M402.68 227.53h0M420.62 220.8h0M420.19 233.72h0M412.59 238.69h0M403.7 239.79h0M420.11 237.05h0M424.69 216.46h0M420.93 222.38h0M416.3 223.37h0M398.96 236.2h0M432.51 228.17h0M416.12 225.5h0M428.65 216.25h0M419.72 227.49h0M415.34 228.25h0M413.48 237.31h0M424.11 229.85h0M405.05 227.77h0M426.98 230.5h0M410.78 229.1h0M405.82 233.92h0M409.53 228.23h0M423.62 218.18h0M426.52 228.89h0M424.05 218.23h0M423.62 226.65h0M406.66 226.84h0M426.14 224.84h0M414.57 224.11h0M413.42 228.3h0M423.68 231.24h0M429.22 219.15h0M424.37 225.23h0M417.28 227.79h0M414.09 231.91h0M434 214.86h0M413.37 229.35h0M415.6 233.62h0M411.48 223.62h0M416.94 224.1h0M425.78 219.16h0M423.72 216.61h0M418.04 229.96h0M426.26 221.95h0M412.66 235.67h0M415.43 227.15h0M424.52 233.95h0M410.99 229.2h0M421.69 224.02h0M421.85 229.23h0M422.27 225.22h0M424.19 222.18h0M412.62 231.19h0M416.37 231.29h0M401.93 232.25h0M410.58 225.63h0M410.17 240.36h0M417.06 232.82h0M408.72 229.73h0M408.63 234.89h0M411.7 228.5h0M407.6 227.68h0M407.6 225.53h0M420.78 229.86h0M433 223.13h0M414.34 238.37h0M429.38 221.53h0M415.49 234.07h0M418.49 214.46h0M426.49 226.21h0M417.62 232.83h0M407.79 233.45h0M414.79 233.1h0M422.76 229.53h0M412.33 233.47h0M425.76 222.54h0M414.96 236.83h0M417.58 231.24h0M426.23 227.43h0M407.77 224.83h0M415.11 237.19h0M422.98 230.79h0M414.85 225.2h0M418.55 220.12h0M419.32 243.04h0M411.88 240.42h0M423.29 222.17h0M415.17 239.47h0M402.91 235.1h0M420.47 231.01h0M423.89 226.94h0M414.57 230.35h0M410.29 234.47h0M419.01 223.77h0M416.87 224.16h0M415.04 231.53h0M420.18 229.74h0M428.59 228.82h0M415.38 228.89h0M412.71 234.28h0M416.95 222.68h0M421.62 228.99h0M414.17 227.96h0M423.17 221.9h0M426.43 226.78h0M421.5 220.29h0M416.77 231.41h0M406.26 226.32h0M424.24 219.93h0M414.74 221.82h0M420.83 219.11h0M409.23 226.77h0M415.62 228.56h0M419.35 229.49h0M423.64 228.62h0M409.75 229.49h0M421.26 228.69h0M428.62 221.09h0M411.12 239.21h0M425.41 218.84h0M416.96 231.38h0M418.91 231.7h0M425.66 229.59h0M416.13 223.83h0M426.13 225.2h0M412.5 230.81h0M411.43 243.19h0M402.72 228.86h0M407.68 238.5h0M421.05 222.99h0M413.83 223.54h0M416.14 237.2h0M420.05 224.72h0M418.73 218.71h0M421.53 231.66h0M426.98 216.43h0M422.7 216.67h0M418.42 225.55h0M411.32 237.96h0M421.57 221.85h0M425.37 229.94h0M402.99 233.73h0M407.68 230.4h0M426.25 219.84h0M409.95 232.41h0M428.55 209.34h0M415.71 232.9h0M422.22 224.12h0M406.62 232.03h0M420.43 224.05h0M416.27 239.4h0M420.26 222.71h0M417.79 229.7h0M406.65 230.42h0M411.16 224.06h0M411.49 223.63h0M416.5 228.26h0M420.58 215.47h0M407.03 235.79h0M408.8 234.05h0M424.27 226.14h0M421.84 216.63h0M442.24 213.87h0M403.67 226.28h0M417.77 228.41h0M406.73 242.14h0M412.28 228.09h0M426.63 225.15h0M416.65 231.1h0M410.01 230.91h0M421.15 227.95h0M402.32 228.6h0M411.57 222.23h0M428.53 229.22h0M410.89 226.46h0M417.17 238.29h0M420.77 228.57h0M422.11 222.01h0M410.82 228.57h0M393.73 245.06h0M416.42 228.03h0M419.06 225.15h0M423.06 227.78h0M411.72 232.94h0M415.31 238.95h0M420.76 228.17h0M431.62 219.57h0M421.97 229.14h0M413.11 237.21h0M409.22 224.98h0M420.42 218.66h0M418.78 223.06h0M430.21 223.25h0M404.89 231.09h0M421.96 229.66h0M412.41 229.36h0M404.44 221.42h0M406.55 230.24h0M415.03 225.08h0M410.19 234.29h0M410.37 236.89h0M412.21 231.58h0M419.4 233.36h0M420.22 229.12h0M415.56 223.85h0M422.6 224.7h0M417.06 225.38h0M424.34 231.27h0M425.81 204.98h0M419.75 220.64h0M428.74 219.75h0M400.67 211.77h0M406.9 229.83h0M412.43 225.83h0M422.04 233.03h0M405.68 204.12h0M420.7 229.42h0M416.62 225.46h0M402.6 236.7h0M434.23 221.37h0M412.68 223.79h0M418.16 224.81h0M424.29 221.36h0M417.63 232.02h0M419.94 238.12h0M416.33 213.41h0M413.28 220.6h0M434.83 217.95h0M427.5 229.85h0M411.15 228.89h0M414.91 230.98h0M419.17 229.27h0M422.97 232.94h0M421.61 216.03h0M417.5 240.2h0M425.41 215.53h0M414.17 238.15h0M412.04 209.14h0M419.88 221.24h0M419 234.66h0M414.37 238.31h0M429.64 214.53h0M397.88 230.97h0M394.77 234.53h0M427.51 211.22h0M401.26 233.32h0M409.99 235.15h0M427.18 240.51h0M407.88 231.5h0M435.07 225.77h0M423.58 213.31h0M422.75 224.03h0M425.45 221.74h0M402.24 232.47h0M409.97 222.49h0M428.69 213.85h0M410.38 234.8h0M415.38 230.44h0M412.39 215.1h0M411.18 243.52h0M420.17 227.96h0M420.89 221.77h0M416.56 217.35h0M412.52 224.09h0M418.36 237.33h0M405.45 217.65h0M415.43 236.71h0M420.35 215.29h0M405.6 225.35h0M439.9 204.23h0M431.45 219.13h0M431.23 218.69h0M424.53 230.37h0M432.22 227.57h0M410.17 231.81h0M435.71 222.29h0M414.12 223.57h0M414.44 226.31h0M439.95 210.49h0M430.48 215.18h0M427.11 233.09h0M435.51 212.14h0M429.58 228.14h0M424.49 230.73h0M406.37 230.86h0M426.44 221.55h0M429.13 208.42h0M435.54 191.72h0M427.76 188.32h0M422.88 193.78h0M423.47 189.28h0M438.48 192.39h0M427.51 191.44h0M442.92 189.26h0M444.89 190.57h0M433.47 191.28h0M446.47 188.98h0M436.9 188.76h0M442.9 195.04h0M449.88 206.2h0M450.33 205.83h0M444.62 202.9h0M449.19 205.98h0M442.33 204.27h0M453.42 208.05h0M433.32 203.63h0M428.73 201.73h0M435.33 207.22h0M442.24 206.81h0M458.34 181.88h0M475.28 165.47h0M421.56 246.98h0" stroke="#3c50d0" stroke-opacity="0.9" stroke-width="1.2" stroke-linecap="round" fill="none"/>
<path d="M451.03 218.82h0M450.07 204.98h0M445.1 218.11h0M419.83 202.53h0M453.11 204.63h0M440.81 232.08h0M440 238.21h0M434.38 231.04h0M442.58 227.57h0M455.67 213.24h0M421.27 238.9h0M442.53 212.48h0M437.6 216.86h0M444.56 229.68h0M435.28 225.05h0M447.81 222.55h0M429.94 213.16h0M458.16 212.9h0M441.14 235.03h0M436.62 216.43h0M440.61 229.65h0M436.15 247.28h0M443.12 217.33h0M461.76 211.95h0M454.08 216.39h0M434.15 225.15h0M441.02 215.75h0M440.67 233.65h0M448.69 197.9h0M443.32 231.87h0M448.2 205.18h0M451.33 224.88h0M444.8 227.33h0M445.34 211.63h0M439.27 238.72h0M442.57 228.14h0M449.24 223.43h0M449.34 226.36h0M445.26 224.75h0M450.5 216.18h0M442.03 231.03h0M426.16 218.94h0M451.92 215.47h0M437.85 214.59h0M447.58 220.06h0M443.51 218.88h0M426.71 202.86h0M443.21 207h0M452.86 221.08h0M455.23 197.8h0M447.67 228.12h0M444.08 223.59h0M437.46 211h0M449.79 220.03h0M462.31 205.32h0M446.28 209.37h0M446.88 229.77h0M461.2 202.51h0M462.71 208.94h0M464.39 211.5h0M459.93 211.31h0M452.12 221.1h0M441.42 202.99h0M449.23 226.59h0M456.7 205.22h0M445.41 217.37h0M452.91 211.59h0M438.57 218.87h0M440.81 229.22h0M464.09 211.53h0M449.45 213.49h0M469.11 206.38h0M430.13 210.25h0M471.01 208.42h0M447.17 220.05h0M440.66 215.96h0M451.84 211.55h0M451.61 224.31h0M455.46 210.91h0M452.41 214.19h0M455.5 193.16h0M451.19 224.44h0M449.64 223.86h0" stroke="#c8083c" stroke-opacity="0.85" stroke-width="1.5" stroke-linecap="round" fill="none"/>
<path d="M464.38 233.08h0M453.79 222.35h0M471.53 226.26h0M460.09 235.11h0M447.18 243.85h0M455.35 222.12h0M462.59 242.18h0M455.06 222.89h0M460.97 226.21h0M445.68 237.52h0M463.36 227.3h0M452.65 236.5h0M462.81 229.8h0M473.87 229.92h0M470.53 223.38h0M447.25 236.22h0M476.95 208.3h0M463.77 217.66h0M474.77 228.88h0M457.01 253.28h0M464.63 253.44h0M473.38 231.57h0M451.68 236.82h0M457.2 259.02h0M479.42 219.4h0M477.7 239.59h0M449.96 231.48h0M476.76 232.72h0M465.57 234.72h0M457.28 223.34h0M467.12 238.65h0M443.39 241.13h0M456.02 228.66h0M471.09 246.75h0M453.57 224.09h0M465.85 223.15h0M463.08 233.93h0M467.77 225.79h0M450.58 232.26h0M453.05 218.33h0M467.49 232.06h0M467.02 247.59h0M455.09 223.9h0M447.01 234.01h0M459.21 230.12h0M454.19 229.13h0M461.52 233.34h0M462.02 216.02h0M452.88 232.94h0M441.91 241.88h0M459.75 237.15h0M452.79 226.67h0M455.68 236.84h0M475.15 225.2h0M474.47 225.63h0M476.46 215.72h0M460.86 234.48h0M467.6 253.36h0M467.58 228.86h0M462.47 231.85h0M467.16 223.47h0M447.05 248.14h0M471.29 254.75h0M451.41 237.76h0M455.31 240.3h0M474.51 232.67h0M472.54 234.09h0M457.2 220.73h0M471.93 215.79h0M451.3 244.69h0M468.66 250.67h0M448.76 233.09h0M467.05 237.04h0M449.52 229.7h0M492.45 242.09h0M450.29 232.82h0M456.75 237.36h0M461.47 215.74h0M465.03 247.44h0M465.97 228.77h0M456.35 232.59h0M456.65 244.5h0M452.79 225.47h0M475.37 214.82h0M450.44 237.92h0M459.88 240.64h0M455.96 221.27h0M456.59 224.42h0M448.08 240.6h0M458.26 235.26h0M461.02 251.32h0M470.49 234.84h0M458.02 220.04h0M466.34 215.44h0M461.19 217.72h0M447.55 233.33h0M457.66 222.26h0M459.92 240.22h0M452.04 232.26h0M481.84 216.8h0M450.96 230.41h0M458.64 236.32h0M449.72 236.53h0M493.79 258.12h0M524.56 265.52h0M483.85 238.24h0M459.07 248.81h0M470.37 245.96h0M464.95 249.04h0M488.43 218.47h0M514.16 235.11h0M498.12 215.1h0M483.56 211.48h0M464.28 214.64h0M465.16 224.2h0M476.79 212.25h0M534.4 267.74h0M531.48 255.95h0M490.14 237.75h0M494.57 232.45h0M458.42 229.35h0M463.6 227.41h0M462.54 230.29h0M474.36 252.49h0M471.16 235.79h0M452.35 240.11h0M489.33 244.55h0M494.26 240.86h0M473.85 249.29h0M463.23 232.54h0M467.71 238.28h0M492.37 226.89h0M464.53 231.49h0M486.81 250.91h0M508.95 240.26h0M523.8 249.06h0M464.2 243h0M508.67 267.58h0M473.62 234.55h0M449.14 239.06h0M455.62 224.68h0M465.86 233.77h0M450.19 232.48h0M500.52 253.77h0M476.12 229.93h0M516.57 267.04h0M531.57 257.45h0M521.35 245.54h0M525.28 243.08h0M524.36 255.88h0M468.13 223.72h0M474.12 241.71h0M469.85 225.15h0M503.6 237.3h0M487.56 230.11h0M475.53 251.83h0M454.17 231.65h0M469.71 216.65h0M493.1 225.68h0M498.78 247.51h0M452.09 229.41h0M456.56 228.21h0M480.96 256.45h0M478.92 242.67h0M481.71 232.07h0M462.75 231.25h0M479.05 243.01h0M508.16 256.37h0M460.54 236.89h0M466.92 242.12h0M512.47 259.78h0M470.81 259.35h0M517.49 253.79h0M503.39 265.31h0M469.38 240.41h0M476.53 254.75h0M479.39 218.81h0M470.56 239.6h0M468.15 228.43h0M477.56 234.46h0M459.73 232.06h0M467.44 217.97h0M459.81 223.53h0M481.18 244h0M459.08 242.31h0M490.5 227.86h0" stroke="#c00a40" stroke-opacity="0.5" stroke-width="1.6" stroke-linecap="round" fill="none"/>
<g fill="none" stroke="#0d1430" stroke-width="0.7" stroke-opacity="0.95">
<ellipse cx="425.3" cy="199.9" rx="2.6" ry="1.5"/>
<ellipse cx="406" cy="206.4" rx="4.7" ry="2.1"/>
<ellipse cx="426.1" cy="208.1" rx="4.3" ry="2.1"/>
<ellipse cx="417.3" cy="209.5" rx="3" ry="1.7"/>
<ellipse cx="434.6" cy="208.6" rx="2.5" ry="1.7"/>
<ellipse cx="409.1" cy="212.9" rx="3.4" ry="1.7"/>
<ellipse cx="419.7" cy="214" rx="3.8" ry="2.1"/>
<ellipse cx="429.5" cy="214.9" rx="4.3" ry="2.1"/>
<ellipse cx="406" cy="220.2" rx="3.8" ry="3"/>
<ellipse cx="399.2" cy="222.2" rx="3" ry="1.7"/>
<ellipse cx="421.4" cy="219.7" rx="4.7" ry="2.6"/>
<ellipse cx="429.9" cy="222.2" rx="3.8" ry="2.6"/>
<ellipse cx="400.1" cy="227.7" rx="3" ry="2.1"/>
<ellipse cx="410.3" cy="226.5" rx="4.7" ry="2.6"/>
<ellipse cx="425.3" cy="227.3" rx="4.3" ry="2.6"/>
<ellipse cx="401.8" cy="234.5" rx="3.8" ry="3"/>
<ellipse cx="412.5" cy="231.6" rx="3.4" ry="2.6"/>
<ellipse cx="421.4" cy="233.3" rx="3.8" ry="2.6"/>
<ellipse cx="403.2" cy="239.6" rx="4.3" ry="2.1"/>
<ellipse cx="415.4" cy="238.4" rx="4.7" ry="2.6"/>
<ellipse cx="439" cy="186.8" rx="2.6" ry="1.7"/>
<ellipse cx="431.1" cy="190.3" rx="1.8" ry="1.3"/>
<ellipse cx="441.5" cy="193.8" rx="4.1" ry="2"/>
<ellipse cx="442.8" cy="203.3" rx="3.8" ry="2"/>
<ellipse cx="451.7" cy="205.4" rx="3" ry="1.5"/>
<ellipse cx="416" cy="218" rx="3.5" ry="2.2"/>
<ellipse cx="413" cy="223" rx="3" ry="2"/>
<ellipse cx="418" cy="228" rx="3.5" ry="2"/>
<ellipse cx="408" cy="233" rx="3" ry="2"/>
<ellipse cx="395" cy="230" rx="3" ry="2"/>
<ellipse cx="396" cy="217" rx="3" ry="2"/>
<ellipse cx="425.37" cy="223" rx="3.07" ry="1.83"/>
<ellipse cx="413.95" cy="222.76" rx="3.91" ry="2.62"/>
<ellipse cx="410.51" cy="227.21" rx="3.83" ry="2.57"/>
<ellipse cx="416.74" cy="217.54" rx="2.43" ry="1.27"/>
<ellipse cx="408.24" cy="221.67" rx="3.61" ry="2.4"/>
<ellipse cx="405.51" cy="217.16" rx="2.58" ry="1.33"/>
<ellipse cx="418.79" cy="236.02" rx="2.49" ry="1.48"/>
<ellipse cx="421.12" cy="222.83" rx="3.55" ry="2.2"/>
<ellipse cx="418.1" cy="225.51" rx="3.98" ry="2.26"/>
<ellipse cx="418.76" cy="220.5" rx="2.5" ry="1.43"/>
<ellipse cx="412.67" cy="221.59" rx="2.51" ry="1.4"/>
<ellipse cx="414.58" cy="225.45" rx="3.67" ry="2.25"/>
<ellipse cx="403.95" cy="234.07" rx="2.67" ry="1.57"/>
<ellipse cx="412.88" cy="225.64" rx="2.43" ry="1.59"/>
<ellipse cx="420.94" cy="217.57" rx="3.58" ry="2.45"/>
<ellipse cx="403.05" cy="216.7" rx="3.69" ry="2.41"/>
</g>
</g>
<rect x="387.45" y="157.2" width="156.05" height="120.55" fill="none" stroke="#555" stroke-width="0.35"/>
<text transform="translate(387.45 283.5) scale(1 1.2)" class="t">−2</text>
<text transform="translate(409.74 283.5) scale(1 1.2)" class="t">−1</text>
<text transform="translate(432.04 283.5) scale(1 1.2)" class="t">0</text>
<text transform="translate(454.33 283.5) scale(1 1.2)" class="t">1</text>
<text transform="translate(476.62 283.5) scale(1 1.2)" class="t">2</text>
<text transform="translate(498.91 283.5) scale(1 1.2)" class="t">3</text>
<text transform="translate(521.21 283.5) scale(1 1.2)" class="t">4</text>
<text transform="translate(543.5 283.5) scale(1 1.2)" class="t">5</text>
<text transform="translate(384.85 273.76) scale(1 1.2)" class="ty">−4</text>
<text transform="translate(384.85 250.8) scale(1 1.2)" class="ty">−2</text>
<text transform="translate(384.85 227.84) scale(1 1.2)" class="ty">0</text>
<text transform="translate(384.85 204.87) scale(1 1.2)" class="ty">2</text>
<text transform="translate(384.85 181.91) scale(1 1.2)" class="ty">4</text>
<text transform="translate(384.85 158.95) scale(1 1.2)" class="ty">6</text>
<path d="M387.45 277.75v1.5M409.74 277.75v1.5M432.04 277.75v1.5M454.33 277.75v1.5M476.62 277.75v1.5M498.91 277.75v1.5M521.21 277.75v1.5M543.5 277.75v1.5M387.45 272.01h-1.5M387.45 249.05h-1.5M387.45 226.09h-1.5M387.45 203.12h-1.5M387.45 180.16h-1.5M387.45 157.2h-1.5" stroke="#444" stroke-width="0.35" fill="none"/>
<text transform="translate(465.48 154.5) scale(1 1.2)" class="ti">50 clusters</text>
</svg>
</body></html>
